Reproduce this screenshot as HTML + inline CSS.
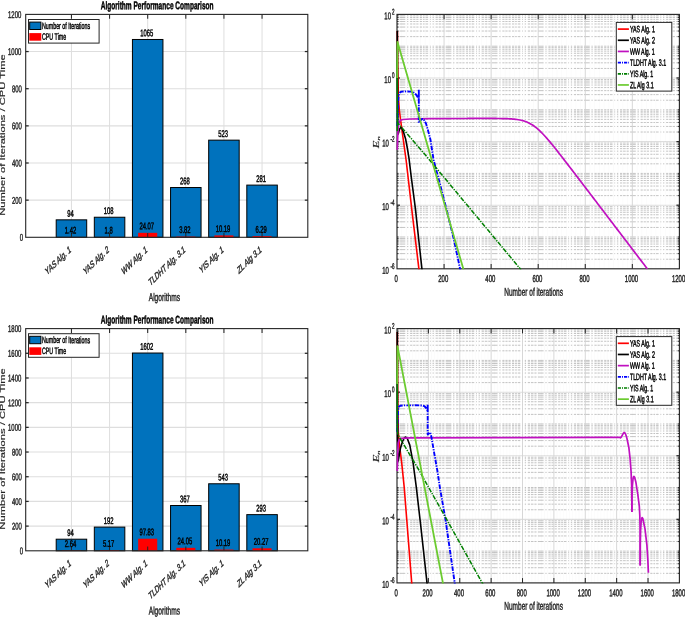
<!DOCTYPE html>
<html><head><meta charset="utf-8"><title>Algorithm Performance Comparison</title>
<style>html,body{margin:0;padding:0;background:#fff}svg{display:block}</style></head>
<body>
<svg width="685" height="617" viewBox="0 0 685 617">
<rect width="685" height="617" fill="#fff"/>
<line x1="71.45" y1="14.40" x2="71.45" y2="237.30" stroke="#dedede" stroke-width="1.0" />
<line x1="109.57" y1="14.40" x2="109.57" y2="237.30" stroke="#dedede" stroke-width="1.0" />
<line x1="147.69" y1="14.40" x2="147.69" y2="237.30" stroke="#dedede" stroke-width="1.0" />
<line x1="185.81" y1="14.40" x2="185.81" y2="237.30" stroke="#dedede" stroke-width="1.0" />
<line x1="223.93" y1="14.40" x2="223.93" y2="237.30" stroke="#dedede" stroke-width="1.0" />
<line x1="262.05" y1="14.40" x2="262.05" y2="237.30" stroke="#dedede" stroke-width="1.0" />
<line x1="25.70" y1="200.15" x2="307.80" y2="200.15" stroke="#dedede" stroke-width="1.1" />
<line x1="25.70" y1="163.00" x2="307.80" y2="163.00" stroke="#dedede" stroke-width="1.1" />
<line x1="25.70" y1="125.85" x2="307.80" y2="125.85" stroke="#dedede" stroke-width="1.1" />
<line x1="25.70" y1="88.70" x2="307.80" y2="88.70" stroke="#dedede" stroke-width="1.1" />
<line x1="25.70" y1="51.55" x2="307.80" y2="51.55" stroke="#dedede" stroke-width="1.1" />
<rect x="56.20" y="219.84" width="30.50" height="17.46" fill="#0072BD" stroke="#000" stroke-width="1.0" />
<rect x="94.32" y="217.24" width="30.50" height="20.06" fill="#0072BD" stroke="#000" stroke-width="1.0" />
<rect x="132.44" y="39.48" width="30.50" height="197.82" fill="#0072BD" stroke="#000" stroke-width="1.0" />
<rect x="170.56" y="187.52" width="30.50" height="49.78" fill="#0072BD" stroke="#000" stroke-width="1.0" />
<rect x="208.68" y="140.15" width="30.50" height="97.15" fill="#0072BD" stroke="#000" stroke-width="1.0" />
<rect x="246.81" y="185.10" width="30.50" height="52.20" fill="#0072BD" stroke="#000" stroke-width="1.0" />
<rect x="61.92" y="237.04" width="19.06" height="0.26" fill="#FF0000" stroke="none" stroke-width="1.0" />
<rect x="100.04" y="236.97" width="19.06" height="0.33" fill="#FF0000" stroke="none" stroke-width="1.0" />
<rect x="138.16" y="232.83" width="19.06" height="4.47" fill="#FF0000" stroke="none" stroke-width="1.0" />
<rect x="176.28" y="236.59" width="19.06" height="0.71" fill="#FF0000" stroke="none" stroke-width="1.0" />
<rect x="214.40" y="235.41" width="19.06" height="1.89" fill="#FF0000" stroke="none" stroke-width="1.0" />
<rect x="252.52" y="236.13" width="19.06" height="1.17" fill="#FF0000" stroke="none" stroke-width="1.0" />
<rect x="25.70" y="14.40" width="282.10" height="222.90" fill="none" stroke="#262626" stroke-width="1.1" />
<line x1="71.45" y1="237.30" x2="71.45" y2="233.00" stroke="#262626" stroke-width="1.05" />
<line x1="71.45" y1="14.40" x2="71.45" y2="18.70" stroke="#262626" stroke-width="1.05" />
<line x1="109.57" y1="237.30" x2="109.57" y2="233.00" stroke="#262626" stroke-width="1.05" />
<line x1="109.57" y1="14.40" x2="109.57" y2="18.70" stroke="#262626" stroke-width="1.05" />
<line x1="147.69" y1="237.30" x2="147.69" y2="233.00" stroke="#262626" stroke-width="1.05" />
<line x1="147.69" y1="14.40" x2="147.69" y2="18.70" stroke="#262626" stroke-width="1.05" />
<line x1="185.81" y1="237.30" x2="185.81" y2="233.00" stroke="#262626" stroke-width="1.05" />
<line x1="185.81" y1="14.40" x2="185.81" y2="18.70" stroke="#262626" stroke-width="1.05" />
<line x1="223.93" y1="237.30" x2="223.93" y2="233.00" stroke="#262626" stroke-width="1.05" />
<line x1="223.93" y1="14.40" x2="223.93" y2="18.70" stroke="#262626" stroke-width="1.05" />
<line x1="262.05" y1="237.30" x2="262.05" y2="233.00" stroke="#262626" stroke-width="1.05" />
<line x1="262.05" y1="14.40" x2="262.05" y2="18.70" stroke="#262626" stroke-width="1.05" />
<text transform="translate(23.10,240.80) scale(0.6090,1) rotate(0.03)" font-family='"Liberation Sans", sans-serif' font-size="9.8" text-anchor="end" font-weight="normal" font-style="normal" fill="#262626" stroke="#262626" stroke-width="0.45" >0</text>
<line x1="25.70" y1="200.15" x2="28.70" y2="200.15" stroke="#262626" stroke-width="1.25" />
<line x1="307.80" y1="200.15" x2="304.80" y2="200.15" stroke="#262626" stroke-width="1.25" />
<text transform="translate(21.90,203.65) scale(0.6090,1) rotate(0.03)" font-family='"Liberation Sans", sans-serif' font-size="9.8" text-anchor="end" font-weight="normal" font-style="normal" fill="#262626" stroke="#262626" stroke-width="0.45" >200</text>
<line x1="25.70" y1="163.00" x2="28.70" y2="163.00" stroke="#262626" stroke-width="1.25" />
<line x1="307.80" y1="163.00" x2="304.80" y2="163.00" stroke="#262626" stroke-width="1.25" />
<text transform="translate(21.90,166.50) scale(0.6090,1) rotate(0.03)" font-family='"Liberation Sans", sans-serif' font-size="9.8" text-anchor="end" font-weight="normal" font-style="normal" fill="#262626" stroke="#262626" stroke-width="0.45" >400</text>
<line x1="25.70" y1="125.85" x2="28.70" y2="125.85" stroke="#262626" stroke-width="1.25" />
<line x1="307.80" y1="125.85" x2="304.80" y2="125.85" stroke="#262626" stroke-width="1.25" />
<text transform="translate(21.90,129.35) scale(0.6090,1) rotate(0.03)" font-family='"Liberation Sans", sans-serif' font-size="9.8" text-anchor="end" font-weight="normal" font-style="normal" fill="#262626" stroke="#262626" stroke-width="0.45" >600</text>
<line x1="25.70" y1="88.70" x2="28.70" y2="88.70" stroke="#262626" stroke-width="1.25" />
<line x1="307.80" y1="88.70" x2="304.80" y2="88.70" stroke="#262626" stroke-width="1.25" />
<text transform="translate(21.90,92.20) scale(0.6090,1) rotate(0.03)" font-family='"Liberation Sans", sans-serif' font-size="9.8" text-anchor="end" font-weight="normal" font-style="normal" fill="#262626" stroke="#262626" stroke-width="0.45" >800</text>
<line x1="25.70" y1="51.55" x2="28.70" y2="51.55" stroke="#262626" stroke-width="1.25" />
<line x1="307.80" y1="51.55" x2="304.80" y2="51.55" stroke="#262626" stroke-width="1.25" />
<text transform="translate(21.30,55.05) scale(0.6090,1) rotate(0.03)" font-family='"Liberation Sans", sans-serif' font-size="9.8" text-anchor="end" font-weight="normal" font-style="normal" fill="#262626" stroke="#262626" stroke-width="0.45" >1000</text>
<text transform="translate(21.30,17.90) scale(0.6090,1) rotate(0.03)" font-family='"Liberation Sans", sans-serif' font-size="9.8" text-anchor="end" font-weight="normal" font-style="normal" fill="#262626" stroke="#262626" stroke-width="0.45" >1200</text>
<text transform="translate(70.55,216.64) scale(0.6100,1) rotate(0.03)" font-family='"Liberation Sans", sans-serif' font-size="9.6" text-anchor="middle" font-weight="normal" font-style="normal" fill="#000" stroke="#000" stroke-width="0.45" >94</text>
<text transform="translate(70.55,233.54) scale(0.6100,1) rotate(0.03)" font-family='"Liberation Sans", sans-serif' font-size="9.6" text-anchor="middle" font-weight="normal" font-style="normal" fill="#000" stroke="#000" stroke-width="0.45" >1.42</text>
<text transform="translate(108.67,214.04) scale(0.6100,1) rotate(0.03)" font-family='"Liberation Sans", sans-serif' font-size="9.6" text-anchor="middle" font-weight="normal" font-style="normal" fill="#000" stroke="#000" stroke-width="0.45" >108</text>
<text transform="translate(108.67,233.47) scale(0.6100,1) rotate(0.03)" font-family='"Liberation Sans", sans-serif' font-size="9.6" text-anchor="middle" font-weight="normal" font-style="normal" fill="#000" stroke="#000" stroke-width="0.45" >1.8</text>
<text transform="translate(146.79,36.28) scale(0.6100,1) rotate(0.03)" font-family='"Liberation Sans", sans-serif' font-size="9.6" text-anchor="middle" font-weight="normal" font-style="normal" fill="#000" stroke="#000" stroke-width="0.45" >1065</text>
<text transform="translate(146.79,229.33) scale(0.6100,1) rotate(0.03)" font-family='"Liberation Sans", sans-serif' font-size="9.6" text-anchor="middle" font-weight="normal" font-style="normal" fill="#000" stroke="#000" stroke-width="0.45" >24.07</text>
<text transform="translate(184.91,184.32) scale(0.6100,1) rotate(0.03)" font-family='"Liberation Sans", sans-serif' font-size="9.6" text-anchor="middle" font-weight="normal" font-style="normal" fill="#000" stroke="#000" stroke-width="0.45" >268</text>
<text transform="translate(184.91,233.09) scale(0.6100,1) rotate(0.03)" font-family='"Liberation Sans", sans-serif' font-size="9.6" text-anchor="middle" font-weight="normal" font-style="normal" fill="#000" stroke="#000" stroke-width="0.45" >3.82</text>
<text transform="translate(223.03,136.95) scale(0.6100,1) rotate(0.03)" font-family='"Liberation Sans", sans-serif' font-size="9.6" text-anchor="middle" font-weight="normal" font-style="normal" fill="#000" stroke="#000" stroke-width="0.45" >523</text>
<text transform="translate(223.03,231.91) scale(0.6100,1) rotate(0.03)" font-family='"Liberation Sans", sans-serif' font-size="9.6" text-anchor="middle" font-weight="normal" font-style="normal" fill="#000" stroke="#000" stroke-width="0.45" >10.19</text>
<text transform="translate(261.15,181.90) scale(0.6100,1) rotate(0.03)" font-family='"Liberation Sans", sans-serif' font-size="9.6" text-anchor="middle" font-weight="normal" font-style="normal" fill="#000" stroke="#000" stroke-width="0.45" >281</text>
<text transform="translate(261.15,232.63) scale(0.6100,1) rotate(0.03)" font-family='"Liberation Sans", sans-serif' font-size="9.6" text-anchor="middle" font-weight="normal" font-style="normal" fill="#000" stroke="#000" stroke-width="0.45" >6.29</text>
<text transform="translate(71.35,251.30) scale(0.5850,1) rotate(-30)" font-family='"Liberation Sans", sans-serif' font-size="10.3" text-anchor="end" font-weight="normal" font-style="normal" fill="#262626" stroke="#262626" stroke-width="0.45" >YAS Alg. 1</text>
<text transform="translate(109.47,251.30) scale(0.5850,1) rotate(-30)" font-family='"Liberation Sans", sans-serif' font-size="10.3" text-anchor="end" font-weight="normal" font-style="normal" fill="#262626" stroke="#262626" stroke-width="0.45" >YAS Alg. 2</text>
<text transform="translate(147.59,251.30) scale(0.5850,1) rotate(-30)" font-family='"Liberation Sans", sans-serif' font-size="10.3" text-anchor="end" font-weight="normal" font-style="normal" fill="#262626" stroke="#262626" stroke-width="0.45" >WW Alg. 1</text>
<text transform="translate(185.71,251.30) scale(0.5850,1) rotate(-30)" font-family='"Liberation Sans", sans-serif' font-size="10.3" text-anchor="end" font-weight="normal" font-style="normal" fill="#262626" stroke="#262626" stroke-width="0.45" >TLDHT Alg. 3.1</text>
<text transform="translate(223.83,251.30) scale(0.5850,1) rotate(-30)" font-family='"Liberation Sans", sans-serif' font-size="10.3" text-anchor="end" font-weight="normal" font-style="normal" fill="#262626" stroke="#262626" stroke-width="0.45" >YIS Alg. 1</text>
<text transform="translate(261.95,251.30) scale(0.5850,1) rotate(-30)" font-family='"Liberation Sans", sans-serif' font-size="10.3" text-anchor="end" font-weight="normal" font-style="normal" fill="#262626" stroke="#262626" stroke-width="0.45" >ZL Alg 3.1</text>
<rect x="28.50" y="19.50" width="70.60" height="23.60" fill="#fff" stroke="#262626" stroke-width="1.0" />
<rect x="29.70" y="22.10" width="11.20" height="7.40" fill="#0072BD" stroke="#000" stroke-width="1.0" />
<rect x="29.30" y="33.10" width="12.00" height="7.60" fill="#FF0000" stroke="none" stroke-width="1.0" />
<text transform="translate(42.00,28.90) scale(0.5780,1) rotate(0.03)" font-family='"Liberation Sans", sans-serif' font-size="9.2" text-anchor="start" font-weight="normal" font-style="normal" fill="#000" stroke="#000" stroke-width="0.45" >Number of Iterations</text>
<text transform="translate(42.00,39.70) scale(0.5780,1) rotate(0.03)" font-family='"Liberation Sans", sans-serif' font-size="9.2" text-anchor="start" font-weight="normal" font-style="normal" fill="#000" stroke="#000" stroke-width="0.45" >CPU Time</text>
<text transform="translate(157.15,9.30) scale(0.5860,1) rotate(0.03)" font-family='"Liberation Sans", sans-serif' font-size="11.2" text-anchor="middle" font-weight="bold" font-style="normal" fill="#000" stroke="#000" stroke-width="0.45" >Algorithm Performance Comparison</text>
<text transform="translate(164.40,300.90) scale(0.5940,1) rotate(0.03)" font-family='"Liberation Sans", sans-serif' font-size="11.2" text-anchor="middle" font-weight="normal" font-style="normal" fill="#262626" stroke="#262626" stroke-width="0.45" >Algorithms</text>
<text transform="translate(4.90,135.05) scale(0.5850,1) rotate(-90)" font-family='"Liberation Sans", sans-serif' font-size="11.2" text-anchor="middle" font-weight="normal" font-style="normal" fill="#262626" stroke="#262626" stroke-width="0.25" >Number of Iterations / CPU Time</text>
<line x1="71.45" y1="328.60" x2="71.45" y2="550.80" stroke="#dedede" stroke-width="1.0" />
<line x1="109.57" y1="328.60" x2="109.57" y2="550.80" stroke="#dedede" stroke-width="1.0" />
<line x1="147.69" y1="328.60" x2="147.69" y2="550.80" stroke="#dedede" stroke-width="1.0" />
<line x1="185.81" y1="328.60" x2="185.81" y2="550.80" stroke="#dedede" stroke-width="1.0" />
<line x1="223.93" y1="328.60" x2="223.93" y2="550.80" stroke="#dedede" stroke-width="1.0" />
<line x1="262.05" y1="328.60" x2="262.05" y2="550.80" stroke="#dedede" stroke-width="1.0" />
<line x1="25.70" y1="526.11" x2="307.80" y2="526.11" stroke="#dedede" stroke-width="1.1" />
<line x1="25.70" y1="501.42" x2="307.80" y2="501.42" stroke="#dedede" stroke-width="1.1" />
<line x1="25.70" y1="476.73" x2="307.80" y2="476.73" stroke="#dedede" stroke-width="1.1" />
<line x1="25.70" y1="452.04" x2="307.80" y2="452.04" stroke="#dedede" stroke-width="1.1" />
<line x1="25.70" y1="427.36" x2="307.80" y2="427.36" stroke="#dedede" stroke-width="1.1" />
<line x1="25.70" y1="402.67" x2="307.80" y2="402.67" stroke="#dedede" stroke-width="1.1" />
<line x1="25.70" y1="377.98" x2="307.80" y2="377.98" stroke="#dedede" stroke-width="1.1" />
<line x1="25.70" y1="353.29" x2="307.80" y2="353.29" stroke="#dedede" stroke-width="1.1" />
<rect x="56.20" y="539.20" width="30.50" height="11.60" fill="#0072BD" stroke="#000" stroke-width="1.0" />
<rect x="94.32" y="527.10" width="30.50" height="23.70" fill="#0072BD" stroke="#000" stroke-width="1.0" />
<rect x="132.44" y="353.04" width="30.50" height="197.76" fill="#0072BD" stroke="#000" stroke-width="1.0" />
<rect x="170.56" y="505.50" width="30.50" height="45.30" fill="#0072BD" stroke="#000" stroke-width="1.0" />
<rect x="208.68" y="483.77" width="30.50" height="67.03" fill="#0072BD" stroke="#000" stroke-width="1.0" />
<rect x="246.81" y="514.63" width="30.50" height="36.17" fill="#0072BD" stroke="#000" stroke-width="1.0" />
<rect x="61.92" y="550.47" width="19.06" height="0.33" fill="#FF0000" stroke="none" stroke-width="1.0" />
<rect x="100.04" y="550.16" width="19.06" height="0.64" fill="#FF0000" stroke="none" stroke-width="1.0" />
<rect x="138.16" y="538.72" width="19.06" height="12.08" fill="#FF0000" stroke="none" stroke-width="1.0" />
<rect x="176.28" y="547.83" width="19.06" height="2.97" fill="#FF0000" stroke="none" stroke-width="1.0" />
<rect x="214.40" y="549.54" width="19.06" height="1.26" fill="#FF0000" stroke="none" stroke-width="1.0" />
<rect x="252.52" y="548.30" width="19.06" height="2.50" fill="#FF0000" stroke="none" stroke-width="1.0" />
<rect x="25.70" y="328.60" width="282.10" height="222.20" fill="none" stroke="#262626" stroke-width="1.1" />
<line x1="71.45" y1="550.80" x2="71.45" y2="546.50" stroke="#262626" stroke-width="1.05" />
<line x1="71.45" y1="328.60" x2="71.45" y2="332.90" stroke="#262626" stroke-width="1.05" />
<line x1="109.57" y1="550.80" x2="109.57" y2="546.50" stroke="#262626" stroke-width="1.05" />
<line x1="109.57" y1="328.60" x2="109.57" y2="332.90" stroke="#262626" stroke-width="1.05" />
<line x1="147.69" y1="550.80" x2="147.69" y2="546.50" stroke="#262626" stroke-width="1.05" />
<line x1="147.69" y1="328.60" x2="147.69" y2="332.90" stroke="#262626" stroke-width="1.05" />
<line x1="185.81" y1="550.80" x2="185.81" y2="546.50" stroke="#262626" stroke-width="1.05" />
<line x1="185.81" y1="328.60" x2="185.81" y2="332.90" stroke="#262626" stroke-width="1.05" />
<line x1="223.93" y1="550.80" x2="223.93" y2="546.50" stroke="#262626" stroke-width="1.05" />
<line x1="223.93" y1="328.60" x2="223.93" y2="332.90" stroke="#262626" stroke-width="1.05" />
<line x1="262.05" y1="550.80" x2="262.05" y2="546.50" stroke="#262626" stroke-width="1.05" />
<line x1="262.05" y1="328.60" x2="262.05" y2="332.90" stroke="#262626" stroke-width="1.05" />
<text transform="translate(23.10,554.30) scale(0.6090,1) rotate(0.03)" font-family='"Liberation Sans", sans-serif' font-size="9.8" text-anchor="end" font-weight="normal" font-style="normal" fill="#262626" stroke="#262626" stroke-width="0.45" >0</text>
<line x1="25.70" y1="526.11" x2="28.70" y2="526.11" stroke="#262626" stroke-width="1.25" />
<line x1="307.80" y1="526.11" x2="304.80" y2="526.11" stroke="#262626" stroke-width="1.25" />
<text transform="translate(21.90,529.61) scale(0.6090,1) rotate(0.03)" font-family='"Liberation Sans", sans-serif' font-size="9.8" text-anchor="end" font-weight="normal" font-style="normal" fill="#262626" stroke="#262626" stroke-width="0.45" >200</text>
<line x1="25.70" y1="501.42" x2="28.70" y2="501.42" stroke="#262626" stroke-width="1.25" />
<line x1="307.80" y1="501.42" x2="304.80" y2="501.42" stroke="#262626" stroke-width="1.25" />
<text transform="translate(21.90,504.92) scale(0.6090,1) rotate(0.03)" font-family='"Liberation Sans", sans-serif' font-size="9.8" text-anchor="end" font-weight="normal" font-style="normal" fill="#262626" stroke="#262626" stroke-width="0.45" >400</text>
<line x1="25.70" y1="476.73" x2="28.70" y2="476.73" stroke="#262626" stroke-width="1.25" />
<line x1="307.80" y1="476.73" x2="304.80" y2="476.73" stroke="#262626" stroke-width="1.25" />
<text transform="translate(21.90,480.23) scale(0.6090,1) rotate(0.03)" font-family='"Liberation Sans", sans-serif' font-size="9.8" text-anchor="end" font-weight="normal" font-style="normal" fill="#262626" stroke="#262626" stroke-width="0.45" >600</text>
<line x1="25.70" y1="452.04" x2="28.70" y2="452.04" stroke="#262626" stroke-width="1.25" />
<line x1="307.80" y1="452.04" x2="304.80" y2="452.04" stroke="#262626" stroke-width="1.25" />
<text transform="translate(21.90,455.54) scale(0.6090,1) rotate(0.03)" font-family='"Liberation Sans", sans-serif' font-size="9.8" text-anchor="end" font-weight="normal" font-style="normal" fill="#262626" stroke="#262626" stroke-width="0.45" >800</text>
<line x1="25.70" y1="427.36" x2="28.70" y2="427.36" stroke="#262626" stroke-width="1.25" />
<line x1="307.80" y1="427.36" x2="304.80" y2="427.36" stroke="#262626" stroke-width="1.25" />
<text transform="translate(21.30,430.86) scale(0.6090,1) rotate(0.03)" font-family='"Liberation Sans", sans-serif' font-size="9.8" text-anchor="end" font-weight="normal" font-style="normal" fill="#262626" stroke="#262626" stroke-width="0.45" >1000</text>
<line x1="25.70" y1="402.67" x2="28.70" y2="402.67" stroke="#262626" stroke-width="1.25" />
<line x1="307.80" y1="402.67" x2="304.80" y2="402.67" stroke="#262626" stroke-width="1.25" />
<text transform="translate(21.30,406.17) scale(0.6090,1) rotate(0.03)" font-family='"Liberation Sans", sans-serif' font-size="9.8" text-anchor="end" font-weight="normal" font-style="normal" fill="#262626" stroke="#262626" stroke-width="0.45" >1200</text>
<line x1="25.70" y1="377.98" x2="28.70" y2="377.98" stroke="#262626" stroke-width="1.25" />
<line x1="307.80" y1="377.98" x2="304.80" y2="377.98" stroke="#262626" stroke-width="1.25" />
<text transform="translate(21.30,381.48) scale(0.6090,1) rotate(0.03)" font-family='"Liberation Sans", sans-serif' font-size="9.8" text-anchor="end" font-weight="normal" font-style="normal" fill="#262626" stroke="#262626" stroke-width="0.45" >1400</text>
<line x1="25.70" y1="353.29" x2="28.70" y2="353.29" stroke="#262626" stroke-width="1.25" />
<line x1="307.80" y1="353.29" x2="304.80" y2="353.29" stroke="#262626" stroke-width="1.25" />
<text transform="translate(21.30,356.79) scale(0.6090,1) rotate(0.03)" font-family='"Liberation Sans", sans-serif' font-size="9.8" text-anchor="end" font-weight="normal" font-style="normal" fill="#262626" stroke="#262626" stroke-width="0.45" >1600</text>
<text transform="translate(21.30,332.10) scale(0.6090,1) rotate(0.03)" font-family='"Liberation Sans", sans-serif' font-size="9.8" text-anchor="end" font-weight="normal" font-style="normal" fill="#262626" stroke="#262626" stroke-width="0.45" >1800</text>
<text transform="translate(70.55,536.00) scale(0.6100,1) rotate(0.03)" font-family='"Liberation Sans", sans-serif' font-size="9.6" text-anchor="middle" font-weight="normal" font-style="normal" fill="#000" stroke="#000" stroke-width="0.45" >94</text>
<text transform="translate(70.55,546.97) scale(0.6100,1) rotate(0.03)" font-family='"Liberation Sans", sans-serif' font-size="9.6" text-anchor="middle" font-weight="normal" font-style="normal" fill="#000" stroke="#000" stroke-width="0.45" >2.64</text>
<text transform="translate(108.67,523.90) scale(0.6100,1) rotate(0.03)" font-family='"Liberation Sans", sans-serif' font-size="9.6" text-anchor="middle" font-weight="normal" font-style="normal" fill="#000" stroke="#000" stroke-width="0.45" >192</text>
<text transform="translate(108.67,546.66) scale(0.6100,1) rotate(0.03)" font-family='"Liberation Sans", sans-serif' font-size="9.6" text-anchor="middle" font-weight="normal" font-style="normal" fill="#000" stroke="#000" stroke-width="0.45" >5.17</text>
<text transform="translate(146.79,349.84) scale(0.6100,1) rotate(0.03)" font-family='"Liberation Sans", sans-serif' font-size="9.6" text-anchor="middle" font-weight="normal" font-style="normal" fill="#000" stroke="#000" stroke-width="0.45" >1602</text>
<text transform="translate(146.79,535.22) scale(0.6100,1) rotate(0.03)" font-family='"Liberation Sans", sans-serif' font-size="9.6" text-anchor="middle" font-weight="normal" font-style="normal" fill="#000" stroke="#000" stroke-width="0.45" >97.83</text>
<text transform="translate(184.91,502.30) scale(0.6100,1) rotate(0.03)" font-family='"Liberation Sans", sans-serif' font-size="9.6" text-anchor="middle" font-weight="normal" font-style="normal" fill="#000" stroke="#000" stroke-width="0.45" >367</text>
<text transform="translate(184.91,544.33) scale(0.6100,1) rotate(0.03)" font-family='"Liberation Sans", sans-serif' font-size="9.6" text-anchor="middle" font-weight="normal" font-style="normal" fill="#000" stroke="#000" stroke-width="0.45" >24.05</text>
<text transform="translate(223.03,480.57) scale(0.6100,1) rotate(0.03)" font-family='"Liberation Sans", sans-serif' font-size="9.6" text-anchor="middle" font-weight="normal" font-style="normal" fill="#000" stroke="#000" stroke-width="0.45" >543</text>
<text transform="translate(223.03,546.04) scale(0.6100,1) rotate(0.03)" font-family='"Liberation Sans", sans-serif' font-size="9.6" text-anchor="middle" font-weight="normal" font-style="normal" fill="#000" stroke="#000" stroke-width="0.45" >10.19</text>
<text transform="translate(261.15,511.43) scale(0.6100,1) rotate(0.03)" font-family='"Liberation Sans", sans-serif' font-size="9.6" text-anchor="middle" font-weight="normal" font-style="normal" fill="#000" stroke="#000" stroke-width="0.45" >293</text>
<text transform="translate(261.15,544.80) scale(0.6100,1) rotate(0.03)" font-family='"Liberation Sans", sans-serif' font-size="9.6" text-anchor="middle" font-weight="normal" font-style="normal" fill="#000" stroke="#000" stroke-width="0.45" >20.27</text>
<text transform="translate(71.35,564.80) scale(0.5850,1) rotate(-30)" font-family='"Liberation Sans", sans-serif' font-size="10.3" text-anchor="end" font-weight="normal" font-style="normal" fill="#262626" stroke="#262626" stroke-width="0.45" >YAS Alg. 1</text>
<text transform="translate(109.47,564.80) scale(0.5850,1) rotate(-30)" font-family='"Liberation Sans", sans-serif' font-size="10.3" text-anchor="end" font-weight="normal" font-style="normal" fill="#262626" stroke="#262626" stroke-width="0.45" >YAS Alg. 2</text>
<text transform="translate(147.59,564.80) scale(0.5850,1) rotate(-30)" font-family='"Liberation Sans", sans-serif' font-size="10.3" text-anchor="end" font-weight="normal" font-style="normal" fill="#262626" stroke="#262626" stroke-width="0.45" >WW Alg. 1</text>
<text transform="translate(185.71,564.80) scale(0.5850,1) rotate(-30)" font-family='"Liberation Sans", sans-serif' font-size="10.3" text-anchor="end" font-weight="normal" font-style="normal" fill="#262626" stroke="#262626" stroke-width="0.45" >TLDHT Alg. 3.1</text>
<text transform="translate(223.83,564.80) scale(0.5850,1) rotate(-30)" font-family='"Liberation Sans", sans-serif' font-size="10.3" text-anchor="end" font-weight="normal" font-style="normal" fill="#262626" stroke="#262626" stroke-width="0.45" >YIS Alg. 1</text>
<text transform="translate(261.95,564.80) scale(0.5850,1) rotate(-30)" font-family='"Liberation Sans", sans-serif' font-size="10.3" text-anchor="end" font-weight="normal" font-style="normal" fill="#262626" stroke="#262626" stroke-width="0.45" >ZL Alg 3.1</text>
<rect x="28.50" y="333.70" width="70.60" height="23.60" fill="#fff" stroke="#262626" stroke-width="1.0" />
<rect x="29.70" y="336.30" width="11.20" height="7.40" fill="#0072BD" stroke="#000" stroke-width="1.0" />
<rect x="29.30" y="347.30" width="12.00" height="7.60" fill="#FF0000" stroke="none" stroke-width="1.0" />
<text transform="translate(42.00,343.10) scale(0.5780,1) rotate(0.03)" font-family='"Liberation Sans", sans-serif' font-size="9.2" text-anchor="start" font-weight="normal" font-style="normal" fill="#000" stroke="#000" stroke-width="0.45" >Number of Iterations</text>
<text transform="translate(42.00,353.90) scale(0.5780,1) rotate(0.03)" font-family='"Liberation Sans", sans-serif' font-size="9.2" text-anchor="start" font-weight="normal" font-style="normal" fill="#000" stroke="#000" stroke-width="0.45" >CPU Time</text>
<text transform="translate(157.15,323.50) scale(0.5860,1) rotate(0.03)" font-family='"Liberation Sans", sans-serif' font-size="11.2" text-anchor="middle" font-weight="bold" font-style="normal" fill="#000" stroke="#000" stroke-width="0.45" >Algorithm Performance Comparison</text>
<text transform="translate(164.40,614.40) scale(0.5940,1) rotate(0.03)" font-family='"Liberation Sans", sans-serif' font-size="11.2" text-anchor="middle" font-weight="normal" font-style="normal" fill="#262626" stroke="#262626" stroke-width="0.45" >Algorithms</text>
<text transform="translate(4.90,448.90) scale(0.5850,1) rotate(-90)" font-family='"Liberation Sans", sans-serif' font-size="11.2" text-anchor="middle" font-weight="normal" font-style="normal" fill="#262626" stroke="#262626" stroke-width="0.25" >Number of Iterations / CPU Time</text>
<clipPath id="c2"><rect x="396.00" y="14.40" width="284.40" height="254.90"/></clipPath>
<line x1="397.00" y1="36.63" x2="679.40" y2="36.63" stroke="#000" stroke-width="0.9" stroke-dasharray="5.7 1.75 1.3 1.75 2.2 0.9 2.2 0.9 2.2 1.3 2.2 0.9 1.75 0.9 2.6 1.75 0.9 1.75 1.3 1.75 2.2 0.9 2.6 0.9 2.2 1.3" stroke-dashoffset="43.5" opacity="0.26"/>
<line x1="397.00" y1="31.03" x2="679.40" y2="31.03" stroke="#000" stroke-width="0.9" stroke-dasharray="5.7 1.75 1.3 1.75 2.2 0.9 2.2 0.9 2.2 1.3 2.2 0.9 1.75 0.9 2.6 1.75 0.9 1.75 1.3 1.75 2.2 0.9 2.6 0.9 2.2 1.3" stroke-dashoffset="43.5" opacity="0.26"/>
<line x1="397.00" y1="27.05" x2="679.40" y2="27.05" stroke="#000" stroke-width="0.9" stroke-dasharray="5.7 1.75 1.3 1.75 2.2 0.9 2.2 0.9 2.2 1.3 2.2 0.9 1.75 0.9 2.6 1.75 0.9 1.75 1.3 1.75 2.2 0.9 2.6 0.9 2.2 1.3" stroke-dashoffset="43.5" opacity="0.26"/>
<line x1="397.00" y1="23.97" x2="679.40" y2="23.97" stroke="#000" stroke-width="0.9" stroke-dasharray="5.7 1.75 1.3 1.75 2.2 0.9 2.2 0.9 2.2 1.3 2.2 0.9 1.75 0.9 2.6 1.75 0.9 1.75 1.3 1.75 2.2 0.9 2.6 0.9 2.2 1.3" stroke-dashoffset="43.5" opacity="0.26"/>
<line x1="397.00" y1="21.45" x2="679.40" y2="21.45" stroke="#000" stroke-width="0.9" stroke-dasharray="5.7 1.75 1.3 1.75 2.2 0.9 2.2 0.9 2.2 1.3 2.2 0.9 1.75 0.9 2.6 1.75 0.9 1.75 1.3 1.75 2.2 0.9 2.6 0.9 2.2 1.3" stroke-dashoffset="43.5" opacity="0.26"/>
<line x1="397.00" y1="19.33" x2="679.40" y2="19.33" stroke="#000" stroke-width="0.9" stroke-dasharray="5.7 1.75 1.3 1.75 2.2 0.9 2.2 0.9 2.2 1.3 2.2 0.9 1.75 0.9 2.6 1.75 0.9 1.75 1.3 1.75 2.2 0.9 2.6 0.9 2.2 1.3" stroke-dashoffset="43.5" opacity="0.26"/>
<line x1="397.00" y1="17.48" x2="679.40" y2="17.48" stroke="#000" stroke-width="0.9" stroke-dasharray="5.7 1.75 1.3 1.75 2.2 0.9 2.2 0.9 2.2 1.3 2.2 0.9 1.75 0.9 2.6 1.75 0.9 1.75 1.3 1.75 2.2 0.9 2.6 0.9 2.2 1.3" stroke-dashoffset="43.5" opacity="0.26"/>
<line x1="397.00" y1="15.86" x2="679.40" y2="15.86" stroke="#000" stroke-width="0.9" stroke-dasharray="5.7 1.75 1.3 1.75 2.2 0.9 2.2 0.9 2.2 1.3 2.2 0.9 1.75 0.9 2.6 1.75 0.9 1.75 1.3 1.75 2.2 0.9 2.6 0.9 2.2 1.3" stroke-dashoffset="43.5" opacity="0.26"/>
<line x1="397.00" y1="68.43" x2="679.40" y2="68.43" stroke="#000" stroke-width="0.9" stroke-dasharray="5.7 1.75 1.3 1.75 2.2 0.9 2.2 0.9 2.2 1.3 2.2 0.9 1.75 0.9 2.6 1.75 0.9 1.75 1.3 1.75 2.2 0.9 2.6 0.9 2.2 1.3" stroke-dashoffset="43.5" opacity="0.26"/>
<line x1="397.00" y1="62.83" x2="679.40" y2="62.83" stroke="#000" stroke-width="0.9" stroke-dasharray="5.7 1.75 1.3 1.75 2.2 0.9 2.2 0.9 2.2 1.3 2.2 0.9 1.75 0.9 2.6 1.75 0.9 1.75 1.3 1.75 2.2 0.9 2.6 0.9 2.2 1.3" stroke-dashoffset="43.5" opacity="0.26"/>
<line x1="397.00" y1="58.85" x2="679.40" y2="58.85" stroke="#000" stroke-width="0.9" stroke-dasharray="5.7 1.75 1.3 1.75 2.2 0.9 2.2 0.9 2.2 1.3 2.2 0.9 1.75 0.9 2.6 1.75 0.9 1.75 1.3 1.75 2.2 0.9 2.6 0.9 2.2 1.3" stroke-dashoffset="43.5" opacity="0.26"/>
<line x1="397.00" y1="55.77" x2="679.40" y2="55.77" stroke="#000" stroke-width="0.9" stroke-dasharray="5.7 1.75 1.3 1.75 2.2 0.9 2.2 0.9 2.2 1.3 2.2 0.9 1.75 0.9 2.6 1.75 0.9 1.75 1.3 1.75 2.2 0.9 2.6 0.9 2.2 1.3" stroke-dashoffset="43.5" opacity="0.26"/>
<line x1="397.00" y1="53.25" x2="679.40" y2="53.25" stroke="#000" stroke-width="0.9" stroke-dasharray="5.7 1.75 1.3 1.75 2.2 0.9 2.2 0.9 2.2 1.3 2.2 0.9 1.75 0.9 2.6 1.75 0.9 1.75 1.3 1.75 2.2 0.9 2.6 0.9 2.2 1.3" stroke-dashoffset="43.5" opacity="0.26"/>
<line x1="397.00" y1="51.13" x2="679.40" y2="51.13" stroke="#000" stroke-width="0.9" stroke-dasharray="5.7 1.75 1.3 1.75 2.2 0.9 2.2 0.9 2.2 1.3 2.2 0.9 1.75 0.9 2.6 1.75 0.9 1.75 1.3 1.75 2.2 0.9 2.6 0.9 2.2 1.3" stroke-dashoffset="43.5" opacity="0.26"/>
<line x1="397.00" y1="49.28" x2="679.40" y2="49.28" stroke="#000" stroke-width="0.9" stroke-dasharray="5.7 1.75 1.3 1.75 2.2 0.9 2.2 0.9 2.2 1.3 2.2 0.9 1.75 0.9 2.6 1.75 0.9 1.75 1.3 1.75 2.2 0.9 2.6 0.9 2.2 1.3" stroke-dashoffset="43.5" opacity="0.26"/>
<line x1="397.00" y1="47.66" x2="679.40" y2="47.66" stroke="#000" stroke-width="0.9" stroke-dasharray="5.7 1.75 1.3 1.75 2.2 0.9 2.2 0.9 2.2 1.3 2.2 0.9 1.75 0.9 2.6 1.75 0.9 1.75 1.3 1.75 2.2 0.9 2.6 0.9 2.2 1.3" stroke-dashoffset="43.5" opacity="0.26"/>
<line x1="397.00" y1="100.23" x2="679.40" y2="100.23" stroke="#000" stroke-width="0.9" stroke-dasharray="5.7 1.75 1.3 1.75 2.2 0.9 2.2 0.9 2.2 1.3 2.2 0.9 1.75 0.9 2.6 1.75 0.9 1.75 1.3 1.75 2.2 0.9 2.6 0.9 2.2 1.3" stroke-dashoffset="43.5" opacity="0.26"/>
<line x1="397.00" y1="94.63" x2="679.40" y2="94.63" stroke="#000" stroke-width="0.9" stroke-dasharray="5.7 1.75 1.3 1.75 2.2 0.9 2.2 0.9 2.2 1.3 2.2 0.9 1.75 0.9 2.6 1.75 0.9 1.75 1.3 1.75 2.2 0.9 2.6 0.9 2.2 1.3" stroke-dashoffset="43.5" opacity="0.26"/>
<line x1="397.00" y1="90.65" x2="679.40" y2="90.65" stroke="#000" stroke-width="0.9" stroke-dasharray="5.7 1.75 1.3 1.75 2.2 0.9 2.2 0.9 2.2 1.3 2.2 0.9 1.75 0.9 2.6 1.75 0.9 1.75 1.3 1.75 2.2 0.9 2.6 0.9 2.2 1.3" stroke-dashoffset="43.5" opacity="0.26"/>
<line x1="397.00" y1="87.57" x2="679.40" y2="87.57" stroke="#000" stroke-width="0.9" stroke-dasharray="5.7 1.75 1.3 1.75 2.2 0.9 2.2 0.9 2.2 1.3 2.2 0.9 1.75 0.9 2.6 1.75 0.9 1.75 1.3 1.75 2.2 0.9 2.6 0.9 2.2 1.3" stroke-dashoffset="43.5" opacity="0.26"/>
<line x1="397.00" y1="85.05" x2="679.40" y2="85.05" stroke="#000" stroke-width="0.9" stroke-dasharray="5.7 1.75 1.3 1.75 2.2 0.9 2.2 0.9 2.2 1.3 2.2 0.9 1.75 0.9 2.6 1.75 0.9 1.75 1.3 1.75 2.2 0.9 2.6 0.9 2.2 1.3" stroke-dashoffset="43.5" opacity="0.26"/>
<line x1="397.00" y1="82.93" x2="679.40" y2="82.93" stroke="#000" stroke-width="0.9" stroke-dasharray="5.7 1.75 1.3 1.75 2.2 0.9 2.2 0.9 2.2 1.3 2.2 0.9 1.75 0.9 2.6 1.75 0.9 1.75 1.3 1.75 2.2 0.9 2.6 0.9 2.2 1.3" stroke-dashoffset="43.5" opacity="0.26"/>
<line x1="397.00" y1="81.08" x2="679.40" y2="81.08" stroke="#000" stroke-width="0.9" stroke-dasharray="5.7 1.75 1.3 1.75 2.2 0.9 2.2 0.9 2.2 1.3 2.2 0.9 1.75 0.9 2.6 1.75 0.9 1.75 1.3 1.75 2.2 0.9 2.6 0.9 2.2 1.3" stroke-dashoffset="43.5" opacity="0.26"/>
<line x1="397.00" y1="79.46" x2="679.40" y2="79.46" stroke="#000" stroke-width="0.9" stroke-dasharray="5.7 1.75 1.3 1.75 2.2 0.9 2.2 0.9 2.2 1.3 2.2 0.9 1.75 0.9 2.6 1.75 0.9 1.75 1.3 1.75 2.2 0.9 2.6 0.9 2.2 1.3" stroke-dashoffset="43.5" opacity="0.26"/>
<line x1="397.00" y1="132.03" x2="679.40" y2="132.03" stroke="#000" stroke-width="0.9" stroke-dasharray="5.7 1.75 1.3 1.75 2.2 0.9 2.2 0.9 2.2 1.3 2.2 0.9 1.75 0.9 2.6 1.75 0.9 1.75 1.3 1.75 2.2 0.9 2.6 0.9 2.2 1.3" stroke-dashoffset="43.5" opacity="0.26"/>
<line x1="397.00" y1="126.43" x2="679.40" y2="126.43" stroke="#000" stroke-width="0.9" stroke-dasharray="5.7 1.75 1.3 1.75 2.2 0.9 2.2 0.9 2.2 1.3 2.2 0.9 1.75 0.9 2.6 1.75 0.9 1.75 1.3 1.75 2.2 0.9 2.6 0.9 2.2 1.3" stroke-dashoffset="43.5" opacity="0.26"/>
<line x1="397.00" y1="122.45" x2="679.40" y2="122.45" stroke="#000" stroke-width="0.9" stroke-dasharray="5.7 1.75 1.3 1.75 2.2 0.9 2.2 0.9 2.2 1.3 2.2 0.9 1.75 0.9 2.6 1.75 0.9 1.75 1.3 1.75 2.2 0.9 2.6 0.9 2.2 1.3" stroke-dashoffset="43.5" opacity="0.26"/>
<line x1="397.00" y1="119.37" x2="679.40" y2="119.37" stroke="#000" stroke-width="0.9" stroke-dasharray="5.7 1.75 1.3 1.75 2.2 0.9 2.2 0.9 2.2 1.3 2.2 0.9 1.75 0.9 2.6 1.75 0.9 1.75 1.3 1.75 2.2 0.9 2.6 0.9 2.2 1.3" stroke-dashoffset="43.5" opacity="0.26"/>
<line x1="397.00" y1="116.85" x2="679.40" y2="116.85" stroke="#000" stroke-width="0.9" stroke-dasharray="5.7 1.75 1.3 1.75 2.2 0.9 2.2 0.9 2.2 1.3 2.2 0.9 1.75 0.9 2.6 1.75 0.9 1.75 1.3 1.75 2.2 0.9 2.6 0.9 2.2 1.3" stroke-dashoffset="43.5" opacity="0.26"/>
<line x1="397.00" y1="114.73" x2="679.40" y2="114.73" stroke="#000" stroke-width="0.9" stroke-dasharray="5.7 1.75 1.3 1.75 2.2 0.9 2.2 0.9 2.2 1.3 2.2 0.9 1.75 0.9 2.6 1.75 0.9 1.75 1.3 1.75 2.2 0.9 2.6 0.9 2.2 1.3" stroke-dashoffset="43.5" opacity="0.26"/>
<line x1="397.00" y1="112.88" x2="679.40" y2="112.88" stroke="#000" stroke-width="0.9" stroke-dasharray="5.7 1.75 1.3 1.75 2.2 0.9 2.2 0.9 2.2 1.3 2.2 0.9 1.75 0.9 2.6 1.75 0.9 1.75 1.3 1.75 2.2 0.9 2.6 0.9 2.2 1.3" stroke-dashoffset="43.5" opacity="0.26"/>
<line x1="397.00" y1="111.26" x2="679.40" y2="111.26" stroke="#000" stroke-width="0.9" stroke-dasharray="5.7 1.75 1.3 1.75 2.2 0.9 2.2 0.9 2.2 1.3 2.2 0.9 1.75 0.9 2.6 1.75 0.9 1.75 1.3 1.75 2.2 0.9 2.6 0.9 2.2 1.3" stroke-dashoffset="43.5" opacity="0.26"/>
<line x1="397.00" y1="163.83" x2="679.40" y2="163.83" stroke="#000" stroke-width="0.9" stroke-dasharray="5.7 1.75 1.3 1.75 2.2 0.9 2.2 0.9 2.2 1.3 2.2 0.9 1.75 0.9 2.6 1.75 0.9 1.75 1.3 1.75 2.2 0.9 2.6 0.9 2.2 1.3" stroke-dashoffset="43.5" opacity="0.26"/>
<line x1="397.00" y1="158.23" x2="679.40" y2="158.23" stroke="#000" stroke-width="0.9" stroke-dasharray="5.7 1.75 1.3 1.75 2.2 0.9 2.2 0.9 2.2 1.3 2.2 0.9 1.75 0.9 2.6 1.75 0.9 1.75 1.3 1.75 2.2 0.9 2.6 0.9 2.2 1.3" stroke-dashoffset="43.5" opacity="0.26"/>
<line x1="397.00" y1="154.25" x2="679.40" y2="154.25" stroke="#000" stroke-width="0.9" stroke-dasharray="5.7 1.75 1.3 1.75 2.2 0.9 2.2 0.9 2.2 1.3 2.2 0.9 1.75 0.9 2.6 1.75 0.9 1.75 1.3 1.75 2.2 0.9 2.6 0.9 2.2 1.3" stroke-dashoffset="43.5" opacity="0.26"/>
<line x1="397.00" y1="151.17" x2="679.40" y2="151.17" stroke="#000" stroke-width="0.9" stroke-dasharray="5.7 1.75 1.3 1.75 2.2 0.9 2.2 0.9 2.2 1.3 2.2 0.9 1.75 0.9 2.6 1.75 0.9 1.75 1.3 1.75 2.2 0.9 2.6 0.9 2.2 1.3" stroke-dashoffset="43.5" opacity="0.26"/>
<line x1="397.00" y1="148.65" x2="679.40" y2="148.65" stroke="#000" stroke-width="0.9" stroke-dasharray="5.7 1.75 1.3 1.75 2.2 0.9 2.2 0.9 2.2 1.3 2.2 0.9 1.75 0.9 2.6 1.75 0.9 1.75 1.3 1.75 2.2 0.9 2.6 0.9 2.2 1.3" stroke-dashoffset="43.5" opacity="0.26"/>
<line x1="397.00" y1="146.53" x2="679.40" y2="146.53" stroke="#000" stroke-width="0.9" stroke-dasharray="5.7 1.75 1.3 1.75 2.2 0.9 2.2 0.9 2.2 1.3 2.2 0.9 1.75 0.9 2.6 1.75 0.9 1.75 1.3 1.75 2.2 0.9 2.6 0.9 2.2 1.3" stroke-dashoffset="43.5" opacity="0.26"/>
<line x1="397.00" y1="144.68" x2="679.40" y2="144.68" stroke="#000" stroke-width="0.9" stroke-dasharray="5.7 1.75 1.3 1.75 2.2 0.9 2.2 0.9 2.2 1.3 2.2 0.9 1.75 0.9 2.6 1.75 0.9 1.75 1.3 1.75 2.2 0.9 2.6 0.9 2.2 1.3" stroke-dashoffset="43.5" opacity="0.26"/>
<line x1="397.00" y1="143.06" x2="679.40" y2="143.06" stroke="#000" stroke-width="0.9" stroke-dasharray="5.7 1.75 1.3 1.75 2.2 0.9 2.2 0.9 2.2 1.3 2.2 0.9 1.75 0.9 2.6 1.75 0.9 1.75 1.3 1.75 2.2 0.9 2.6 0.9 2.2 1.3" stroke-dashoffset="43.5" opacity="0.26"/>
<line x1="397.00" y1="195.63" x2="679.40" y2="195.63" stroke="#000" stroke-width="0.9" stroke-dasharray="5.7 1.75 1.3 1.75 2.2 0.9 2.2 0.9 2.2 1.3 2.2 0.9 1.75 0.9 2.6 1.75 0.9 1.75 1.3 1.75 2.2 0.9 2.6 0.9 2.2 1.3" stroke-dashoffset="43.5" opacity="0.26"/>
<line x1="397.00" y1="190.03" x2="679.40" y2="190.03" stroke="#000" stroke-width="0.9" stroke-dasharray="5.7 1.75 1.3 1.75 2.2 0.9 2.2 0.9 2.2 1.3 2.2 0.9 1.75 0.9 2.6 1.75 0.9 1.75 1.3 1.75 2.2 0.9 2.6 0.9 2.2 1.3" stroke-dashoffset="43.5" opacity="0.26"/>
<line x1="397.00" y1="186.05" x2="679.40" y2="186.05" stroke="#000" stroke-width="0.9" stroke-dasharray="5.7 1.75 1.3 1.75 2.2 0.9 2.2 0.9 2.2 1.3 2.2 0.9 1.75 0.9 2.6 1.75 0.9 1.75 1.3 1.75 2.2 0.9 2.6 0.9 2.2 1.3" stroke-dashoffset="43.5" opacity="0.26"/>
<line x1="397.00" y1="182.97" x2="679.40" y2="182.97" stroke="#000" stroke-width="0.9" stroke-dasharray="5.7 1.75 1.3 1.75 2.2 0.9 2.2 0.9 2.2 1.3 2.2 0.9 1.75 0.9 2.6 1.75 0.9 1.75 1.3 1.75 2.2 0.9 2.6 0.9 2.2 1.3" stroke-dashoffset="43.5" opacity="0.26"/>
<line x1="397.00" y1="180.45" x2="679.40" y2="180.45" stroke="#000" stroke-width="0.9" stroke-dasharray="5.7 1.75 1.3 1.75 2.2 0.9 2.2 0.9 2.2 1.3 2.2 0.9 1.75 0.9 2.6 1.75 0.9 1.75 1.3 1.75 2.2 0.9 2.6 0.9 2.2 1.3" stroke-dashoffset="43.5" opacity="0.26"/>
<line x1="397.00" y1="178.33" x2="679.40" y2="178.33" stroke="#000" stroke-width="0.9" stroke-dasharray="5.7 1.75 1.3 1.75 2.2 0.9 2.2 0.9 2.2 1.3 2.2 0.9 1.75 0.9 2.6 1.75 0.9 1.75 1.3 1.75 2.2 0.9 2.6 0.9 2.2 1.3" stroke-dashoffset="43.5" opacity="0.26"/>
<line x1="397.00" y1="176.48" x2="679.40" y2="176.48" stroke="#000" stroke-width="0.9" stroke-dasharray="5.7 1.75 1.3 1.75 2.2 0.9 2.2 0.9 2.2 1.3 2.2 0.9 1.75 0.9 2.6 1.75 0.9 1.75 1.3 1.75 2.2 0.9 2.6 0.9 2.2 1.3" stroke-dashoffset="43.5" opacity="0.26"/>
<line x1="397.00" y1="174.86" x2="679.40" y2="174.86" stroke="#000" stroke-width="0.9" stroke-dasharray="5.7 1.75 1.3 1.75 2.2 0.9 2.2 0.9 2.2 1.3 2.2 0.9 1.75 0.9 2.6 1.75 0.9 1.75 1.3 1.75 2.2 0.9 2.6 0.9 2.2 1.3" stroke-dashoffset="43.5" opacity="0.26"/>
<line x1="397.00" y1="227.43" x2="679.40" y2="227.43" stroke="#000" stroke-width="0.9" stroke-dasharray="5.7 1.75 1.3 1.75 2.2 0.9 2.2 0.9 2.2 1.3 2.2 0.9 1.75 0.9 2.6 1.75 0.9 1.75 1.3 1.75 2.2 0.9 2.6 0.9 2.2 1.3" stroke-dashoffset="43.5" opacity="0.26"/>
<line x1="397.00" y1="221.83" x2="679.40" y2="221.83" stroke="#000" stroke-width="0.9" stroke-dasharray="5.7 1.75 1.3 1.75 2.2 0.9 2.2 0.9 2.2 1.3 2.2 0.9 1.75 0.9 2.6 1.75 0.9 1.75 1.3 1.75 2.2 0.9 2.6 0.9 2.2 1.3" stroke-dashoffset="43.5" opacity="0.26"/>
<line x1="397.00" y1="217.85" x2="679.40" y2="217.85" stroke="#000" stroke-width="0.9" stroke-dasharray="5.7 1.75 1.3 1.75 2.2 0.9 2.2 0.9 2.2 1.3 2.2 0.9 1.75 0.9 2.6 1.75 0.9 1.75 1.3 1.75 2.2 0.9 2.6 0.9 2.2 1.3" stroke-dashoffset="43.5" opacity="0.26"/>
<line x1="397.00" y1="214.77" x2="679.40" y2="214.77" stroke="#000" stroke-width="0.9" stroke-dasharray="5.7 1.75 1.3 1.75 2.2 0.9 2.2 0.9 2.2 1.3 2.2 0.9 1.75 0.9 2.6 1.75 0.9 1.75 1.3 1.75 2.2 0.9 2.6 0.9 2.2 1.3" stroke-dashoffset="43.5" opacity="0.26"/>
<line x1="397.00" y1="212.25" x2="679.40" y2="212.25" stroke="#000" stroke-width="0.9" stroke-dasharray="5.7 1.75 1.3 1.75 2.2 0.9 2.2 0.9 2.2 1.3 2.2 0.9 1.75 0.9 2.6 1.75 0.9 1.75 1.3 1.75 2.2 0.9 2.6 0.9 2.2 1.3" stroke-dashoffset="43.5" opacity="0.26"/>
<line x1="397.00" y1="210.13" x2="679.40" y2="210.13" stroke="#000" stroke-width="0.9" stroke-dasharray="5.7 1.75 1.3 1.75 2.2 0.9 2.2 0.9 2.2 1.3 2.2 0.9 1.75 0.9 2.6 1.75 0.9 1.75 1.3 1.75 2.2 0.9 2.6 0.9 2.2 1.3" stroke-dashoffset="43.5" opacity="0.26"/>
<line x1="397.00" y1="208.28" x2="679.40" y2="208.28" stroke="#000" stroke-width="0.9" stroke-dasharray="5.7 1.75 1.3 1.75 2.2 0.9 2.2 0.9 2.2 1.3 2.2 0.9 1.75 0.9 2.6 1.75 0.9 1.75 1.3 1.75 2.2 0.9 2.6 0.9 2.2 1.3" stroke-dashoffset="43.5" opacity="0.26"/>
<line x1="397.00" y1="206.66" x2="679.40" y2="206.66" stroke="#000" stroke-width="0.9" stroke-dasharray="5.7 1.75 1.3 1.75 2.2 0.9 2.2 0.9 2.2 1.3 2.2 0.9 1.75 0.9 2.6 1.75 0.9 1.75 1.3 1.75 2.2 0.9 2.6 0.9 2.2 1.3" stroke-dashoffset="43.5" opacity="0.26"/>
<line x1="397.00" y1="259.23" x2="679.40" y2="259.23" stroke="#000" stroke-width="0.9" stroke-dasharray="5.7 1.75 1.3 1.75 2.2 0.9 2.2 0.9 2.2 1.3 2.2 0.9 1.75 0.9 2.6 1.75 0.9 1.75 1.3 1.75 2.2 0.9 2.6 0.9 2.2 1.3" stroke-dashoffset="43.5" opacity="0.26"/>
<line x1="397.00" y1="253.63" x2="679.40" y2="253.63" stroke="#000" stroke-width="0.9" stroke-dasharray="5.7 1.75 1.3 1.75 2.2 0.9 2.2 0.9 2.2 1.3 2.2 0.9 1.75 0.9 2.6 1.75 0.9 1.75 1.3 1.75 2.2 0.9 2.6 0.9 2.2 1.3" stroke-dashoffset="43.5" opacity="0.26"/>
<line x1="397.00" y1="249.65" x2="679.40" y2="249.65" stroke="#000" stroke-width="0.9" stroke-dasharray="5.7 1.75 1.3 1.75 2.2 0.9 2.2 0.9 2.2 1.3 2.2 0.9 1.75 0.9 2.6 1.75 0.9 1.75 1.3 1.75 2.2 0.9 2.6 0.9 2.2 1.3" stroke-dashoffset="43.5" opacity="0.26"/>
<line x1="397.00" y1="246.57" x2="679.40" y2="246.57" stroke="#000" stroke-width="0.9" stroke-dasharray="5.7 1.75 1.3 1.75 2.2 0.9 2.2 0.9 2.2 1.3 2.2 0.9 1.75 0.9 2.6 1.75 0.9 1.75 1.3 1.75 2.2 0.9 2.6 0.9 2.2 1.3" stroke-dashoffset="43.5" opacity="0.26"/>
<line x1="397.00" y1="244.05" x2="679.40" y2="244.05" stroke="#000" stroke-width="0.9" stroke-dasharray="5.7 1.75 1.3 1.75 2.2 0.9 2.2 0.9 2.2 1.3 2.2 0.9 1.75 0.9 2.6 1.75 0.9 1.75 1.3 1.75 2.2 0.9 2.6 0.9 2.2 1.3" stroke-dashoffset="43.5" opacity="0.26"/>
<line x1="397.00" y1="241.93" x2="679.40" y2="241.93" stroke="#000" stroke-width="0.9" stroke-dasharray="5.7 1.75 1.3 1.75 2.2 0.9 2.2 0.9 2.2 1.3 2.2 0.9 1.75 0.9 2.6 1.75 0.9 1.75 1.3 1.75 2.2 0.9 2.6 0.9 2.2 1.3" stroke-dashoffset="43.5" opacity="0.26"/>
<line x1="397.00" y1="240.08" x2="679.40" y2="240.08" stroke="#000" stroke-width="0.9" stroke-dasharray="5.7 1.75 1.3 1.75 2.2 0.9 2.2 0.9 2.2 1.3 2.2 0.9 1.75 0.9 2.6 1.75 0.9 1.75 1.3 1.75 2.2 0.9 2.6 0.9 2.2 1.3" stroke-dashoffset="43.5" opacity="0.26"/>
<line x1="397.00" y1="238.46" x2="679.40" y2="238.46" stroke="#000" stroke-width="0.9" stroke-dasharray="5.7 1.75 1.3 1.75 2.2 0.9 2.2 0.9 2.2 1.3 2.2 0.9 1.75 0.9 2.6 1.75 0.9 1.75 1.3 1.75 2.2 0.9 2.6 0.9 2.2 1.3" stroke-dashoffset="43.5" opacity="0.26"/>
<line x1="397.00" y1="46.20" x2="679.40" y2="46.20" stroke="#000" stroke-width="0.9" stroke-dasharray="5.7 1.75 1.3 1.75 2.2 0.9 2.2 0.9 2.2 1.3 2.2 0.9 1.75 0.9 2.6 1.75 0.9 1.75 1.3 1.75 2.2 0.9 2.6 0.9 2.2 1.3" stroke-dashoffset="43.5" opacity="0.26"/>
<line x1="397.00" y1="78.00" x2="679.40" y2="78.00" stroke="#dedede" stroke-width="1.1" />
<line x1="397.00" y1="109.80" x2="679.40" y2="109.80" stroke="#000" stroke-width="0.9" stroke-dasharray="5.7 1.75 1.3 1.75 2.2 0.9 2.2 0.9 2.2 1.3 2.2 0.9 1.75 0.9 2.6 1.75 0.9 1.75 1.3 1.75 2.2 0.9 2.6 0.9 2.2 1.3" stroke-dashoffset="43.5" opacity="0.26"/>
<line x1="397.00" y1="141.60" x2="679.40" y2="141.60" stroke="#dedede" stroke-width="1.1" />
<line x1="397.00" y1="173.40" x2="679.40" y2="173.40" stroke="#000" stroke-width="0.9" stroke-dasharray="5.7 1.75 1.3 1.75 2.2 0.9 2.2 0.9 2.2 1.3 2.2 0.9 1.75 0.9 2.6 1.75 0.9 1.75 1.3 1.75 2.2 0.9 2.6 0.9 2.2 1.3" stroke-dashoffset="43.5" opacity="0.26"/>
<line x1="397.00" y1="205.20" x2="679.40" y2="205.20" stroke="#dedede" stroke-width="1.1" />
<line x1="397.00" y1="237.00" x2="679.40" y2="237.00" stroke="#000" stroke-width="0.9" stroke-dasharray="5.7 1.75 1.3 1.75 2.2 0.9 2.2 0.9 2.2 1.3 2.2 0.9 1.75 0.9 2.6 1.75 0.9 1.75 1.3 1.75 2.2 0.9 2.6 0.9 2.2 1.3" stroke-dashoffset="43.5" opacity="0.26"/>
<line x1="401.71" y1="14.40" x2="401.71" y2="268.80" stroke="#000" stroke-width="0.7" opacity="0.02"/>
<line x1="406.41" y1="14.40" x2="406.41" y2="268.80" stroke="#000" stroke-width="0.7" opacity="0.02"/>
<line x1="411.12" y1="14.40" x2="411.12" y2="268.80" stroke="#000" stroke-width="0.7" opacity="0.02"/>
<line x1="415.83" y1="14.40" x2="415.83" y2="268.80" stroke="#000" stroke-width="0.7" opacity="0.02"/>
<line x1="420.53" y1="14.40" x2="420.53" y2="268.80" stroke="#000" stroke-width="0.7" opacity="0.02"/>
<line x1="425.24" y1="14.40" x2="425.24" y2="268.80" stroke="#000" stroke-width="0.7" opacity="0.02"/>
<line x1="429.95" y1="14.40" x2="429.95" y2="268.80" stroke="#000" stroke-width="0.7" opacity="0.02"/>
<line x1="434.65" y1="14.40" x2="434.65" y2="268.80" stroke="#000" stroke-width="0.7" opacity="0.02"/>
<line x1="439.36" y1="14.40" x2="439.36" y2="268.80" stroke="#000" stroke-width="0.7" opacity="0.02"/>
<line x1="444.07" y1="14.40" x2="444.07" y2="268.80" stroke="#d2d2d2" stroke-width="0.9" />
<line x1="448.77" y1="14.40" x2="448.77" y2="268.80" stroke="#000" stroke-width="0.7" opacity="0.02"/>
<line x1="453.48" y1="14.40" x2="453.48" y2="268.80" stroke="#000" stroke-width="0.7" opacity="0.02"/>
<line x1="458.19" y1="14.40" x2="458.19" y2="268.80" stroke="#000" stroke-width="0.7" opacity="0.02"/>
<line x1="462.89" y1="14.40" x2="462.89" y2="268.80" stroke="#000" stroke-width="0.7" opacity="0.02"/>
<line x1="467.60" y1="14.40" x2="467.60" y2="268.80" stroke="#000" stroke-width="0.7" opacity="0.02"/>
<line x1="472.31" y1="14.40" x2="472.31" y2="268.80" stroke="#000" stroke-width="0.7" opacity="0.02"/>
<line x1="477.01" y1="14.40" x2="477.01" y2="268.80" stroke="#000" stroke-width="0.7" opacity="0.02"/>
<line x1="481.72" y1="14.40" x2="481.72" y2="268.80" stroke="#000" stroke-width="0.7" opacity="0.02"/>
<line x1="486.43" y1="14.40" x2="486.43" y2="268.80" stroke="#000" stroke-width="0.7" opacity="0.02"/>
<line x1="491.13" y1="14.40" x2="491.13" y2="268.80" stroke="#d2d2d2" stroke-width="0.9" />
<line x1="495.84" y1="14.40" x2="495.84" y2="268.80" stroke="#000" stroke-width="0.7" opacity="0.02"/>
<line x1="500.55" y1="14.40" x2="500.55" y2="268.80" stroke="#000" stroke-width="0.7" opacity="0.02"/>
<line x1="505.25" y1="14.40" x2="505.25" y2="268.80" stroke="#000" stroke-width="0.7" opacity="0.02"/>
<line x1="509.96" y1="14.40" x2="509.96" y2="268.80" stroke="#000" stroke-width="0.7" opacity="0.02"/>
<line x1="514.67" y1="14.40" x2="514.67" y2="268.80" stroke="#000" stroke-width="0.7" opacity="0.02"/>
<line x1="519.37" y1="14.40" x2="519.37" y2="268.80" stroke="#000" stroke-width="0.7" opacity="0.02"/>
<line x1="524.08" y1="14.40" x2="524.08" y2="268.80" stroke="#000" stroke-width="0.7" opacity="0.02"/>
<line x1="528.79" y1="14.40" x2="528.79" y2="268.80" stroke="#000" stroke-width="0.7" opacity="0.02"/>
<line x1="533.49" y1="14.40" x2="533.49" y2="268.80" stroke="#000" stroke-width="0.7" opacity="0.02"/>
<line x1="538.20" y1="14.40" x2="538.20" y2="268.80" stroke="#d2d2d2" stroke-width="0.9" />
<line x1="542.91" y1="14.40" x2="542.91" y2="268.80" stroke="#000" stroke-width="0.7" opacity="0.02"/>
<line x1="547.61" y1="14.40" x2="547.61" y2="268.80" stroke="#000" stroke-width="0.7" opacity="0.02"/>
<line x1="552.32" y1="14.40" x2="552.32" y2="268.80" stroke="#000" stroke-width="0.7" opacity="0.02"/>
<line x1="557.03" y1="14.40" x2="557.03" y2="268.80" stroke="#000" stroke-width="0.7" opacity="0.02"/>
<line x1="561.73" y1="14.40" x2="561.73" y2="268.80" stroke="#000" stroke-width="0.7" opacity="0.02"/>
<line x1="566.44" y1="14.40" x2="566.44" y2="268.80" stroke="#000" stroke-width="0.7" opacity="0.02"/>
<line x1="571.15" y1="14.40" x2="571.15" y2="268.80" stroke="#000" stroke-width="0.7" opacity="0.02"/>
<line x1="575.85" y1="14.40" x2="575.85" y2="268.80" stroke="#000" stroke-width="0.7" opacity="0.02"/>
<line x1="580.56" y1="14.40" x2="580.56" y2="268.80" stroke="#000" stroke-width="0.7" opacity="0.02"/>
<line x1="585.27" y1="14.40" x2="585.27" y2="268.80" stroke="#d2d2d2" stroke-width="0.9" />
<line x1="589.97" y1="14.40" x2="589.97" y2="268.80" stroke="#000" stroke-width="0.7" opacity="0.02"/>
<line x1="594.68" y1="14.40" x2="594.68" y2="268.80" stroke="#000" stroke-width="0.7" opacity="0.02"/>
<line x1="599.39" y1="14.40" x2="599.39" y2="268.80" stroke="#000" stroke-width="0.7" opacity="0.02"/>
<line x1="604.09" y1="14.40" x2="604.09" y2="268.80" stroke="#000" stroke-width="0.7" opacity="0.02"/>
<line x1="608.80" y1="14.40" x2="608.80" y2="268.80" stroke="#000" stroke-width="0.7" opacity="0.02"/>
<line x1="613.51" y1="14.40" x2="613.51" y2="268.80" stroke="#000" stroke-width="0.7" opacity="0.02"/>
<line x1="618.21" y1="14.40" x2="618.21" y2="268.80" stroke="#000" stroke-width="0.7" opacity="0.02"/>
<line x1="622.92" y1="14.40" x2="622.92" y2="268.80" stroke="#000" stroke-width="0.7" opacity="0.02"/>
<line x1="627.63" y1="14.40" x2="627.63" y2="268.80" stroke="#000" stroke-width="0.7" opacity="0.02"/>
<line x1="632.33" y1="14.40" x2="632.33" y2="268.80" stroke="#d2d2d2" stroke-width="0.9" />
<line x1="637.04" y1="14.40" x2="637.04" y2="268.80" stroke="#000" stroke-width="0.7" opacity="0.02"/>
<line x1="641.75" y1="14.40" x2="641.75" y2="268.80" stroke="#000" stroke-width="0.7" opacity="0.02"/>
<line x1="646.45" y1="14.40" x2="646.45" y2="268.80" stroke="#000" stroke-width="0.7" opacity="0.02"/>
<line x1="651.16" y1="14.40" x2="651.16" y2="268.80" stroke="#000" stroke-width="0.7" opacity="0.02"/>
<line x1="655.87" y1="14.40" x2="655.87" y2="268.80" stroke="#000" stroke-width="0.7" opacity="0.02"/>
<line x1="660.57" y1="14.40" x2="660.57" y2="268.80" stroke="#000" stroke-width="0.7" opacity="0.02"/>
<line x1="665.28" y1="14.40" x2="665.28" y2="268.80" stroke="#000" stroke-width="0.7" opacity="0.02"/>
<line x1="669.99" y1="14.40" x2="669.99" y2="268.80" stroke="#000" stroke-width="0.7" opacity="0.02"/>
<line x1="674.69" y1="14.40" x2="674.69" y2="268.80" stroke="#000" stroke-width="0.7" opacity="0.02"/>
<rect x="397.00" y="14.40" width="282.40" height="254.40" fill="none" stroke="#262626" stroke-width="1.15" />
<line x1="444.07" y1="268.80" x2="444.07" y2="264.00" stroke="#262626" stroke-width="1.05" />
<line x1="444.07" y1="14.40" x2="444.07" y2="19.20" stroke="#262626" stroke-width="1.05" />
<line x1="491.13" y1="268.80" x2="491.13" y2="264.00" stroke="#262626" stroke-width="1.05" />
<line x1="491.13" y1="14.40" x2="491.13" y2="19.20" stroke="#262626" stroke-width="1.05" />
<line x1="538.20" y1="268.80" x2="538.20" y2="264.00" stroke="#262626" stroke-width="1.05" />
<line x1="538.20" y1="14.40" x2="538.20" y2="19.20" stroke="#262626" stroke-width="1.05" />
<line x1="585.27" y1="268.80" x2="585.27" y2="264.00" stroke="#262626" stroke-width="1.05" />
<line x1="585.27" y1="14.40" x2="585.27" y2="19.20" stroke="#262626" stroke-width="1.05" />
<line x1="632.33" y1="268.80" x2="632.33" y2="264.00" stroke="#262626" stroke-width="1.05" />
<line x1="632.33" y1="14.40" x2="632.33" y2="19.20" stroke="#262626" stroke-width="1.05" />
<text transform="translate(396.20,282.10) scale(0.6050,1) rotate(0.03)" font-family='"Liberation Sans", sans-serif' font-size="9.9" text-anchor="middle" font-weight="normal" font-style="normal" fill="#262626" stroke="#262626" stroke-width="0.45" >0</text>
<text transform="translate(443.27,282.10) scale(0.6050,1) rotate(0.03)" font-family='"Liberation Sans", sans-serif' font-size="9.9" text-anchor="middle" font-weight="normal" font-style="normal" fill="#262626" stroke="#262626" stroke-width="0.45" >200</text>
<text transform="translate(490.33,282.10) scale(0.6050,1) rotate(0.03)" font-family='"Liberation Sans", sans-serif' font-size="9.9" text-anchor="middle" font-weight="normal" font-style="normal" fill="#262626" stroke="#262626" stroke-width="0.45" >400</text>
<text transform="translate(537.40,282.10) scale(0.6050,1) rotate(0.03)" font-family='"Liberation Sans", sans-serif' font-size="9.9" text-anchor="middle" font-weight="normal" font-style="normal" fill="#262626" stroke="#262626" stroke-width="0.45" >600</text>
<text transform="translate(584.47,282.10) scale(0.6050,1) rotate(0.03)" font-family='"Liberation Sans", sans-serif' font-size="9.9" text-anchor="middle" font-weight="normal" font-style="normal" fill="#262626" stroke="#262626" stroke-width="0.45" >800</text>
<text transform="translate(631.53,282.10) scale(0.6050,1) rotate(0.03)" font-family='"Liberation Sans", sans-serif' font-size="9.9" text-anchor="middle" font-weight="normal" font-style="normal" fill="#262626" stroke="#262626" stroke-width="0.45" >1000</text>
<text transform="translate(678.60,282.10) scale(0.6050,1) rotate(0.03)" font-family='"Liberation Sans", sans-serif' font-size="9.9" text-anchor="middle" font-weight="normal" font-style="normal" fill="#262626" stroke="#262626" stroke-width="0.45" >1200</text>
<line x1="397.00" y1="36.63" x2="398.60" y2="36.63" stroke="#262626" stroke-width="0.9" />
<line x1="679.40" y1="36.63" x2="677.80" y2="36.63" stroke="#262626" stroke-width="0.9" />
<line x1="397.00" y1="31.03" x2="398.60" y2="31.03" stroke="#262626" stroke-width="0.9" />
<line x1="679.40" y1="31.03" x2="677.80" y2="31.03" stroke="#262626" stroke-width="0.9" />
<line x1="397.00" y1="27.05" x2="398.60" y2="27.05" stroke="#262626" stroke-width="0.9" />
<line x1="679.40" y1="27.05" x2="677.80" y2="27.05" stroke="#262626" stroke-width="0.9" />
<line x1="397.00" y1="23.97" x2="398.60" y2="23.97" stroke="#262626" stroke-width="0.9" />
<line x1="679.40" y1="23.97" x2="677.80" y2="23.97" stroke="#262626" stroke-width="0.9" />
<line x1="397.00" y1="21.45" x2="398.60" y2="21.45" stroke="#262626" stroke-width="0.9" />
<line x1="679.40" y1="21.45" x2="677.80" y2="21.45" stroke="#262626" stroke-width="0.9" />
<line x1="397.00" y1="19.33" x2="398.60" y2="19.33" stroke="#262626" stroke-width="0.9" />
<line x1="679.40" y1="19.33" x2="677.80" y2="19.33" stroke="#262626" stroke-width="0.9" />
<line x1="397.00" y1="17.48" x2="398.60" y2="17.48" stroke="#262626" stroke-width="0.9" />
<line x1="679.40" y1="17.48" x2="677.80" y2="17.48" stroke="#262626" stroke-width="0.9" />
<line x1="397.00" y1="15.86" x2="398.60" y2="15.86" stroke="#262626" stroke-width="0.9" />
<line x1="679.40" y1="15.86" x2="677.80" y2="15.86" stroke="#262626" stroke-width="0.9" />
<line x1="397.00" y1="68.43" x2="398.60" y2="68.43" stroke="#262626" stroke-width="0.9" />
<line x1="679.40" y1="68.43" x2="677.80" y2="68.43" stroke="#262626" stroke-width="0.9" />
<line x1="397.00" y1="62.83" x2="398.60" y2="62.83" stroke="#262626" stroke-width="0.9" />
<line x1="679.40" y1="62.83" x2="677.80" y2="62.83" stroke="#262626" stroke-width="0.9" />
<line x1="397.00" y1="58.85" x2="398.60" y2="58.85" stroke="#262626" stroke-width="0.9" />
<line x1="679.40" y1="58.85" x2="677.80" y2="58.85" stroke="#262626" stroke-width="0.9" />
<line x1="397.00" y1="55.77" x2="398.60" y2="55.77" stroke="#262626" stroke-width="0.9" />
<line x1="679.40" y1="55.77" x2="677.80" y2="55.77" stroke="#262626" stroke-width="0.9" />
<line x1="397.00" y1="53.25" x2="398.60" y2="53.25" stroke="#262626" stroke-width="0.9" />
<line x1="679.40" y1="53.25" x2="677.80" y2="53.25" stroke="#262626" stroke-width="0.9" />
<line x1="397.00" y1="51.13" x2="398.60" y2="51.13" stroke="#262626" stroke-width="0.9" />
<line x1="679.40" y1="51.13" x2="677.80" y2="51.13" stroke="#262626" stroke-width="0.9" />
<line x1="397.00" y1="49.28" x2="398.60" y2="49.28" stroke="#262626" stroke-width="0.9" />
<line x1="679.40" y1="49.28" x2="677.80" y2="49.28" stroke="#262626" stroke-width="0.9" />
<line x1="397.00" y1="47.66" x2="398.60" y2="47.66" stroke="#262626" stroke-width="0.9" />
<line x1="679.40" y1="47.66" x2="677.80" y2="47.66" stroke="#262626" stroke-width="0.9" />
<line x1="397.00" y1="46.20" x2="398.60" y2="46.20" stroke="#262626" stroke-width="0.9" />
<line x1="679.40" y1="46.20" x2="677.80" y2="46.20" stroke="#262626" stroke-width="0.9" />
<line x1="397.00" y1="100.23" x2="398.60" y2="100.23" stroke="#262626" stroke-width="0.9" />
<line x1="679.40" y1="100.23" x2="677.80" y2="100.23" stroke="#262626" stroke-width="0.9" />
<line x1="397.00" y1="94.63" x2="398.60" y2="94.63" stroke="#262626" stroke-width="0.9" />
<line x1="679.40" y1="94.63" x2="677.80" y2="94.63" stroke="#262626" stroke-width="0.9" />
<line x1="397.00" y1="90.65" x2="398.60" y2="90.65" stroke="#262626" stroke-width="0.9" />
<line x1="679.40" y1="90.65" x2="677.80" y2="90.65" stroke="#262626" stroke-width="0.9" />
<line x1="397.00" y1="87.57" x2="398.60" y2="87.57" stroke="#262626" stroke-width="0.9" />
<line x1="679.40" y1="87.57" x2="677.80" y2="87.57" stroke="#262626" stroke-width="0.9" />
<line x1="397.00" y1="85.05" x2="398.60" y2="85.05" stroke="#262626" stroke-width="0.9" />
<line x1="679.40" y1="85.05" x2="677.80" y2="85.05" stroke="#262626" stroke-width="0.9" />
<line x1="397.00" y1="82.93" x2="398.60" y2="82.93" stroke="#262626" stroke-width="0.9" />
<line x1="679.40" y1="82.93" x2="677.80" y2="82.93" stroke="#262626" stroke-width="0.9" />
<line x1="397.00" y1="81.08" x2="398.60" y2="81.08" stroke="#262626" stroke-width="0.9" />
<line x1="679.40" y1="81.08" x2="677.80" y2="81.08" stroke="#262626" stroke-width="0.9" />
<line x1="397.00" y1="79.46" x2="398.60" y2="79.46" stroke="#262626" stroke-width="0.9" />
<line x1="679.40" y1="79.46" x2="677.80" y2="79.46" stroke="#262626" stroke-width="0.9" />
<line x1="397.00" y1="78.00" x2="400.00" y2="78.00" stroke="#262626" stroke-width="1.25" />
<line x1="679.40" y1="78.00" x2="676.40" y2="78.00" stroke="#262626" stroke-width="1.25" />
<line x1="397.00" y1="132.03" x2="398.60" y2="132.03" stroke="#262626" stroke-width="0.9" />
<line x1="679.40" y1="132.03" x2="677.80" y2="132.03" stroke="#262626" stroke-width="0.9" />
<line x1="397.00" y1="126.43" x2="398.60" y2="126.43" stroke="#262626" stroke-width="0.9" />
<line x1="679.40" y1="126.43" x2="677.80" y2="126.43" stroke="#262626" stroke-width="0.9" />
<line x1="397.00" y1="122.45" x2="398.60" y2="122.45" stroke="#262626" stroke-width="0.9" />
<line x1="679.40" y1="122.45" x2="677.80" y2="122.45" stroke="#262626" stroke-width="0.9" />
<line x1="397.00" y1="119.37" x2="398.60" y2="119.37" stroke="#262626" stroke-width="0.9" />
<line x1="679.40" y1="119.37" x2="677.80" y2="119.37" stroke="#262626" stroke-width="0.9" />
<line x1="397.00" y1="116.85" x2="398.60" y2="116.85" stroke="#262626" stroke-width="0.9" />
<line x1="679.40" y1="116.85" x2="677.80" y2="116.85" stroke="#262626" stroke-width="0.9" />
<line x1="397.00" y1="114.73" x2="398.60" y2="114.73" stroke="#262626" stroke-width="0.9" />
<line x1="679.40" y1="114.73" x2="677.80" y2="114.73" stroke="#262626" stroke-width="0.9" />
<line x1="397.00" y1="112.88" x2="398.60" y2="112.88" stroke="#262626" stroke-width="0.9" />
<line x1="679.40" y1="112.88" x2="677.80" y2="112.88" stroke="#262626" stroke-width="0.9" />
<line x1="397.00" y1="111.26" x2="398.60" y2="111.26" stroke="#262626" stroke-width="0.9" />
<line x1="679.40" y1="111.26" x2="677.80" y2="111.26" stroke="#262626" stroke-width="0.9" />
<line x1="397.00" y1="109.80" x2="398.60" y2="109.80" stroke="#262626" stroke-width="0.9" />
<line x1="679.40" y1="109.80" x2="677.80" y2="109.80" stroke="#262626" stroke-width="0.9" />
<line x1="397.00" y1="163.83" x2="398.60" y2="163.83" stroke="#262626" stroke-width="0.9" />
<line x1="679.40" y1="163.83" x2="677.80" y2="163.83" stroke="#262626" stroke-width="0.9" />
<line x1="397.00" y1="158.23" x2="398.60" y2="158.23" stroke="#262626" stroke-width="0.9" />
<line x1="679.40" y1="158.23" x2="677.80" y2="158.23" stroke="#262626" stroke-width="0.9" />
<line x1="397.00" y1="154.25" x2="398.60" y2="154.25" stroke="#262626" stroke-width="0.9" />
<line x1="679.40" y1="154.25" x2="677.80" y2="154.25" stroke="#262626" stroke-width="0.9" />
<line x1="397.00" y1="151.17" x2="398.60" y2="151.17" stroke="#262626" stroke-width="0.9" />
<line x1="679.40" y1="151.17" x2="677.80" y2="151.17" stroke="#262626" stroke-width="0.9" />
<line x1="397.00" y1="148.65" x2="398.60" y2="148.65" stroke="#262626" stroke-width="0.9" />
<line x1="679.40" y1="148.65" x2="677.80" y2="148.65" stroke="#262626" stroke-width="0.9" />
<line x1="397.00" y1="146.53" x2="398.60" y2="146.53" stroke="#262626" stroke-width="0.9" />
<line x1="679.40" y1="146.53" x2="677.80" y2="146.53" stroke="#262626" stroke-width="0.9" />
<line x1="397.00" y1="144.68" x2="398.60" y2="144.68" stroke="#262626" stroke-width="0.9" />
<line x1="679.40" y1="144.68" x2="677.80" y2="144.68" stroke="#262626" stroke-width="0.9" />
<line x1="397.00" y1="143.06" x2="398.60" y2="143.06" stroke="#262626" stroke-width="0.9" />
<line x1="679.40" y1="143.06" x2="677.80" y2="143.06" stroke="#262626" stroke-width="0.9" />
<line x1="397.00" y1="141.60" x2="400.00" y2="141.60" stroke="#262626" stroke-width="1.25" />
<line x1="679.40" y1="141.60" x2="676.40" y2="141.60" stroke="#262626" stroke-width="1.25" />
<line x1="397.00" y1="195.63" x2="398.60" y2="195.63" stroke="#262626" stroke-width="0.9" />
<line x1="679.40" y1="195.63" x2="677.80" y2="195.63" stroke="#262626" stroke-width="0.9" />
<line x1="397.00" y1="190.03" x2="398.60" y2="190.03" stroke="#262626" stroke-width="0.9" />
<line x1="679.40" y1="190.03" x2="677.80" y2="190.03" stroke="#262626" stroke-width="0.9" />
<line x1="397.00" y1="186.05" x2="398.60" y2="186.05" stroke="#262626" stroke-width="0.9" />
<line x1="679.40" y1="186.05" x2="677.80" y2="186.05" stroke="#262626" stroke-width="0.9" />
<line x1="397.00" y1="182.97" x2="398.60" y2="182.97" stroke="#262626" stroke-width="0.9" />
<line x1="679.40" y1="182.97" x2="677.80" y2="182.97" stroke="#262626" stroke-width="0.9" />
<line x1="397.00" y1="180.45" x2="398.60" y2="180.45" stroke="#262626" stroke-width="0.9" />
<line x1="679.40" y1="180.45" x2="677.80" y2="180.45" stroke="#262626" stroke-width="0.9" />
<line x1="397.00" y1="178.33" x2="398.60" y2="178.33" stroke="#262626" stroke-width="0.9" />
<line x1="679.40" y1="178.33" x2="677.80" y2="178.33" stroke="#262626" stroke-width="0.9" />
<line x1="397.00" y1="176.48" x2="398.60" y2="176.48" stroke="#262626" stroke-width="0.9" />
<line x1="679.40" y1="176.48" x2="677.80" y2="176.48" stroke="#262626" stroke-width="0.9" />
<line x1="397.00" y1="174.86" x2="398.60" y2="174.86" stroke="#262626" stroke-width="0.9" />
<line x1="679.40" y1="174.86" x2="677.80" y2="174.86" stroke="#262626" stroke-width="0.9" />
<line x1="397.00" y1="173.40" x2="398.60" y2="173.40" stroke="#262626" stroke-width="0.9" />
<line x1="679.40" y1="173.40" x2="677.80" y2="173.40" stroke="#262626" stroke-width="0.9" />
<line x1="397.00" y1="227.43" x2="398.60" y2="227.43" stroke="#262626" stroke-width="0.9" />
<line x1="679.40" y1="227.43" x2="677.80" y2="227.43" stroke="#262626" stroke-width="0.9" />
<line x1="397.00" y1="221.83" x2="398.60" y2="221.83" stroke="#262626" stroke-width="0.9" />
<line x1="679.40" y1="221.83" x2="677.80" y2="221.83" stroke="#262626" stroke-width="0.9" />
<line x1="397.00" y1="217.85" x2="398.60" y2="217.85" stroke="#262626" stroke-width="0.9" />
<line x1="679.40" y1="217.85" x2="677.80" y2="217.85" stroke="#262626" stroke-width="0.9" />
<line x1="397.00" y1="214.77" x2="398.60" y2="214.77" stroke="#262626" stroke-width="0.9" />
<line x1="679.40" y1="214.77" x2="677.80" y2="214.77" stroke="#262626" stroke-width="0.9" />
<line x1="397.00" y1="212.25" x2="398.60" y2="212.25" stroke="#262626" stroke-width="0.9" />
<line x1="679.40" y1="212.25" x2="677.80" y2="212.25" stroke="#262626" stroke-width="0.9" />
<line x1="397.00" y1="210.13" x2="398.60" y2="210.13" stroke="#262626" stroke-width="0.9" />
<line x1="679.40" y1="210.13" x2="677.80" y2="210.13" stroke="#262626" stroke-width="0.9" />
<line x1="397.00" y1="208.28" x2="398.60" y2="208.28" stroke="#262626" stroke-width="0.9" />
<line x1="679.40" y1="208.28" x2="677.80" y2="208.28" stroke="#262626" stroke-width="0.9" />
<line x1="397.00" y1="206.66" x2="398.60" y2="206.66" stroke="#262626" stroke-width="0.9" />
<line x1="679.40" y1="206.66" x2="677.80" y2="206.66" stroke="#262626" stroke-width="0.9" />
<line x1="397.00" y1="205.20" x2="400.00" y2="205.20" stroke="#262626" stroke-width="1.25" />
<line x1="679.40" y1="205.20" x2="676.40" y2="205.20" stroke="#262626" stroke-width="1.25" />
<line x1="397.00" y1="259.23" x2="398.60" y2="259.23" stroke="#262626" stroke-width="0.9" />
<line x1="679.40" y1="259.23" x2="677.80" y2="259.23" stroke="#262626" stroke-width="0.9" />
<line x1="397.00" y1="253.63" x2="398.60" y2="253.63" stroke="#262626" stroke-width="0.9" />
<line x1="679.40" y1="253.63" x2="677.80" y2="253.63" stroke="#262626" stroke-width="0.9" />
<line x1="397.00" y1="249.65" x2="398.60" y2="249.65" stroke="#262626" stroke-width="0.9" />
<line x1="679.40" y1="249.65" x2="677.80" y2="249.65" stroke="#262626" stroke-width="0.9" />
<line x1="397.00" y1="246.57" x2="398.60" y2="246.57" stroke="#262626" stroke-width="0.9" />
<line x1="679.40" y1="246.57" x2="677.80" y2="246.57" stroke="#262626" stroke-width="0.9" />
<line x1="397.00" y1="244.05" x2="398.60" y2="244.05" stroke="#262626" stroke-width="0.9" />
<line x1="679.40" y1="244.05" x2="677.80" y2="244.05" stroke="#262626" stroke-width="0.9" />
<line x1="397.00" y1="241.93" x2="398.60" y2="241.93" stroke="#262626" stroke-width="0.9" />
<line x1="679.40" y1="241.93" x2="677.80" y2="241.93" stroke="#262626" stroke-width="0.9" />
<line x1="397.00" y1="240.08" x2="398.60" y2="240.08" stroke="#262626" stroke-width="0.9" />
<line x1="679.40" y1="240.08" x2="677.80" y2="240.08" stroke="#262626" stroke-width="0.9" />
<line x1="397.00" y1="238.46" x2="398.60" y2="238.46" stroke="#262626" stroke-width="0.9" />
<line x1="679.40" y1="238.46" x2="677.80" y2="238.46" stroke="#262626" stroke-width="0.9" />
<line x1="397.00" y1="237.00" x2="398.60" y2="237.00" stroke="#262626" stroke-width="0.9" />
<line x1="679.40" y1="237.00" x2="677.80" y2="237.00" stroke="#262626" stroke-width="0.9" />
<path d="M397.40,31.00 L397.70,60.00 L398.30,95.00 L399.30,110.00 L400.60,120.00 L401.70,128.20 L404.70,150.00 L406.10,160.00 L412.40,214.70 L418.90,268.80 L419.10,270.00" fill="none" stroke="#FF0000" stroke-width="1.6" stroke-linejoin="round" clip-path="url(#c2)"/>
<path d="M397.30,31.00 L397.50,80.00 L397.80,120.00 L398.20,134.00 L399.00,131.00 L400.00,128.30 L400.80,127.70 L401.80,128.20 L403.50,132.00 L405.60,138.90 L407.50,149.00 L409.00,158.40 L411.00,175.00 L415.40,208.60 L419.00,242.00 L421.90,268.80 L422.10,270.00" fill="none" stroke="#000000" stroke-width="1.6" stroke-linejoin="round" clip-path="url(#c2)"/>
<path d="M397.30,149.80 L397.60,140.00 L398.20,128.00 L399.00,122.50 L400.50,120.30 L403.00,119.50 L410.00,119.00 L430.00,118.60 L470.00,118.40 L467.60,118.40 L469.01,118.40 L470.42,118.40 L471.84,118.40 L473.25,118.40 L474.66,118.40 L476.07,118.40 L477.48,118.41 L478.90,118.41 L480.31,118.41 L481.72,118.41 L483.13,118.41 L484.54,118.41 L485.96,118.42 L487.37,118.42 L488.78,118.43 L490.19,118.43 L491.60,118.44 L493.02,118.45 L494.43,118.46 L495.84,118.47 L497.25,118.48 L498.66,118.50 L500.08,118.52 L501.49,118.54 L502.90,118.57 L504.31,118.61 L505.72,118.65 L507.14,118.70 L508.55,118.77 L509.96,118.84 L511.37,118.93 L512.78,119.04 L514.20,119.17 L515.61,119.33 L517.02,119.51 L518.43,119.73 L519.84,119.98 L521.26,120.28 L522.67,120.64 L524.08,121.05 L525.49,121.52 L526.90,122.07 L528.32,122.69 L529.73,123.39 L531.14,124.18 L532.55,125.05 L533.96,126.01 L535.38,127.06 L536.79,128.20 L538.20,129.41 L539.61,130.70 L541.02,132.07 L542.44,133.50 L543.85,134.99 L545.26,136.53 L546.67,138.12 L548.08,139.74 L549.50,141.41 L550.91,143.10 L552.32,144.82 L553.73,146.56 L555.14,148.32 L556.56,150.09 L557.97,151.88 L559.38,153.68 L560.79,155.49 L562.20,157.30 L563.62,159.13 L565.03,160.95 L566.44,162.78 L567.85,164.62 L569.26,166.46 L570.68,168.30 L572.09,170.14 L573.50,171.99 L574.91,173.83 L576.32,175.68 L577.74,177.53 L579.15,179.38 L580.56,181.23 L581.97,183.08 L583.38,184.93 L584.80,186.78 L586.21,188.63 L587.62,190.48 L589.03,192.33 L590.44,194.18 L591.86,196.04 L593.27,197.89 L594.68,199.74 L596.09,201.59 L597.50,203.45 L598.92,205.30 L600.33,207.15 L601.74,209.00 L603.15,210.86 L604.56,212.71 L605.98,214.56 L607.39,216.41 L608.80,218.27 L610.21,220.12 L611.62,221.97 L613.04,223.82 L614.45,225.68 L615.86,227.53 L617.27,229.38 L618.68,231.24 L620.10,233.09 L621.51,234.94 L622.92,236.79 L624.33,238.65 L625.74,240.50 L627.16,242.35 L628.57,244.21 L629.98,246.06 L631.39,247.91 L632.80,249.76 L634.22,251.62 L635.63,253.47 L637.04,255.32 L638.45,257.17 L639.86,259.03 L641.28,260.88 L642.69,262.73 L644.10,264.59 L645.51,266.44 L646.92,268.29 L647.50,268.80" fill="none" stroke="#C010C0" stroke-width="1.7" stroke-linejoin="round" clip-path="url(#c2)"/>
<path d="M397.30,126.00 L397.60,112.00 L398.20,100.00 L399.00,94.00 L400.20,92.20 L402.00,91.60 L406.00,91.40 L411.00,91.60 L414.00,92.60 L416.00,94.50 L417.30,96.50 L418.40,98.60 L418.80,98.80 L418.80,89.70 L418.80,122.80 L419.80,121.20 L421.20,119.60 L422.70,118.90 L424.20,120.20 L426.10,123.80 L428.60,132.50 L430.50,140.00 L433.60,160.00 L440.00,184.00 L446.80,210.60 L453.50,238.00 L460.10,268.80 L460.40,270.00" fill="none" stroke="#0000FF" stroke-width="1.9" stroke-linejoin="round" stroke-dasharray="4.6 1.2 1.3 1.2" clip-path="url(#c2)"/>
<path d="M397.20,60.00 L397.25,131.00" fill="none" stroke="#007F00" stroke-width="1.5" stroke-linejoin="round" clip-path="url(#c2)"/>
<path d="M397.30,121.00 L398.20,123.80 L399.30,124.60 L429.60,160.00 L520.20,268.80 L521.00,269.80" fill="none" stroke="#007F00" stroke-width="1.5" stroke-linejoin="round" stroke-dasharray="4.6 1.2 1.3 1.2" clip-path="url(#c2)"/>
<path d="M397.20,78.00 L397.50,42.00 L463.30,268.80 L463.70,270.00" fill="none" stroke="#6BCB2F" stroke-width="1.8" stroke-linejoin="round" clip-path="url(#c2)"/>
<text transform="translate(391.00,19.30) scale(0.6090,1) rotate(0.03)" font-family='"Liberation Sans", sans-serif' font-size="9.8" text-anchor="end" font-weight="normal" font-style="normal" fill="#262626" stroke="#262626" stroke-width="0.45" >10</text>
<text transform="translate(392.00,14.50) scale(0.5600,1) rotate(0.03)" font-family='"Liberation Sans", sans-serif' font-size="8.1" text-anchor="start" font-weight="normal" font-style="normal" fill="#262626" stroke="#262626" stroke-width="0.45" >2</text>
<text transform="translate(391.00,82.90) scale(0.6090,1) rotate(0.03)" font-family='"Liberation Sans", sans-serif' font-size="9.8" text-anchor="end" font-weight="normal" font-style="normal" fill="#262626" stroke="#262626" stroke-width="0.45" >10</text>
<text transform="translate(392.00,78.10) scale(0.5600,1) rotate(0.03)" font-family='"Liberation Sans", sans-serif' font-size="8.1" text-anchor="start" font-weight="normal" font-style="normal" fill="#262626" stroke="#262626" stroke-width="0.45" >0</text>
<text transform="translate(388.90,146.50) scale(0.6090,1) rotate(0.03)" font-family='"Liberation Sans", sans-serif' font-size="9.8" text-anchor="end" font-weight="normal" font-style="normal" fill="#262626" stroke="#262626" stroke-width="0.45" >10</text>
<text transform="translate(390.40,141.70) scale(0.5600,1) rotate(0.03)" font-family='"Liberation Sans", sans-serif' font-size="8.1" text-anchor="start" font-weight="normal" font-style="normal" fill="#262626" stroke="#262626" stroke-width="0.45" >-2</text>
<text transform="translate(388.90,210.10) scale(0.6090,1) rotate(0.03)" font-family='"Liberation Sans", sans-serif' font-size="9.8" text-anchor="end" font-weight="normal" font-style="normal" fill="#262626" stroke="#262626" stroke-width="0.45" >10</text>
<text transform="translate(390.40,205.30) scale(0.5600,1) rotate(0.03)" font-family='"Liberation Sans", sans-serif' font-size="8.1" text-anchor="start" font-weight="normal" font-style="normal" fill="#262626" stroke="#262626" stroke-width="0.45" >-4</text>
<text transform="translate(388.90,273.70) scale(0.6090,1) rotate(0.03)" font-family='"Liberation Sans", sans-serif' font-size="9.8" text-anchor="end" font-weight="normal" font-style="normal" fill="#262626" stroke="#262626" stroke-width="0.45" >10</text>
<text transform="translate(390.40,268.90) scale(0.5600,1) rotate(0.03)" font-family='"Liberation Sans", sans-serif' font-size="8.1" text-anchor="start" font-weight="normal" font-style="normal" fill="#262626" stroke="#262626" stroke-width="0.45" >-6</text>
<text transform="translate(378.9,148.20) scale(0.585,1) rotate(-90)" font-family='"Liberation Serif", serif' font-style="italic" font-size="12.5" fill="#262626" stroke="#262626" stroke-width="0.3">E<tspan font-size="8.6" dy="2.2">n</tspan></text>
<text transform="translate(533.60,295.70) scale(0.5820,1) rotate(0.03)" font-family='"Liberation Sans", sans-serif' font-size="11.2" text-anchor="middle" font-weight="normal" font-style="normal" fill="#262626" stroke="#262626" stroke-width="0.45" >Number of iterations</text>
<rect x="616.30" y="22.40" width="55.50" height="68.70" fill="#fff" stroke="#262626" stroke-width="1.0" />
<line x1="617.80" y1="29.10" x2="628.90" y2="29.10" stroke="#FF0000" stroke-width="1.7" />
<text transform="translate(629.90,32.30) scale(0.5780,1) rotate(0.03)" font-family='"Liberation Sans", sans-serif' font-size="9.2" text-anchor="start" font-weight="normal" font-style="normal" fill="#000" stroke="#000" stroke-width="0.45" >YAS Alg. 1</text>
<line x1="617.80" y1="40.27" x2="628.90" y2="40.27" stroke="#000000" stroke-width="1.7" />
<text transform="translate(629.90,43.47) scale(0.5780,1) rotate(0.03)" font-family='"Liberation Sans", sans-serif' font-size="9.2" text-anchor="start" font-weight="normal" font-style="normal" fill="#000" stroke="#000" stroke-width="0.45" >YAS Alg. 2</text>
<line x1="617.80" y1="51.44" x2="628.90" y2="51.44" stroke="#C010C0" stroke-width="1.7" />
<text transform="translate(629.90,54.64) scale(0.5780,1) rotate(0.03)" font-family='"Liberation Sans", sans-serif' font-size="9.2" text-anchor="start" font-weight="normal" font-style="normal" fill="#000" stroke="#000" stroke-width="0.45" >WW Alg. 1</text>
<line x1="617.80" y1="62.61" x2="628.90" y2="62.61" stroke="#0000FF" stroke-width="1.7" stroke-dasharray="3.2 1 1 1"/>
<text transform="translate(629.90,65.81) scale(0.5780,1) rotate(0.03)" font-family='"Liberation Sans", sans-serif' font-size="9.2" text-anchor="start" font-weight="normal" font-style="normal" fill="#000" stroke="#000" stroke-width="0.45" >TLDHT Alg. 3.1</text>
<line x1="617.80" y1="73.78" x2="628.90" y2="73.78" stroke="#007F00" stroke-width="1.7" stroke-dasharray="3.2 1 1 1"/>
<text transform="translate(629.90,76.98) scale(0.5780,1) rotate(0.03)" font-family='"Liberation Sans", sans-serif' font-size="9.2" text-anchor="start" font-weight="normal" font-style="normal" fill="#000" stroke="#000" stroke-width="0.45" >YIS Alg. 1</text>
<line x1="617.80" y1="84.95" x2="628.90" y2="84.95" stroke="#6BCB2F" stroke-width="1.7" />
<text transform="translate(629.90,88.15) scale(0.5780,1) rotate(0.03)" font-family='"Liberation Sans", sans-serif' font-size="9.2" text-anchor="start" font-weight="normal" font-style="normal" fill="#000" stroke="#000" stroke-width="0.45" >ZL Alg 3.1</text>
<clipPath id="c4"><rect x="396.00" y="328.60" width="284.40" height="254.80"/></clipPath>
<line x1="397.00" y1="350.82" x2="679.40" y2="350.82" stroke="#000" stroke-width="0.9" stroke-dasharray="5.7 1.75 1.3 1.75 2.2 0.9 2.2 0.9 2.2 1.3 2.2 0.9 1.75 0.9 2.6 1.75 0.9 1.75 1.3 1.75 2.2 0.9 2.6 0.9 2.2 1.3" stroke-dashoffset="43.5" opacity="0.26"/>
<line x1="397.00" y1="345.22" x2="679.40" y2="345.22" stroke="#000" stroke-width="0.9" stroke-dasharray="5.7 1.75 1.3 1.75 2.2 0.9 2.2 0.9 2.2 1.3 2.2 0.9 1.75 0.9 2.6 1.75 0.9 1.75 1.3 1.75 2.2 0.9 2.6 0.9 2.2 1.3" stroke-dashoffset="43.5" opacity="0.26"/>
<line x1="397.00" y1="341.25" x2="679.40" y2="341.25" stroke="#000" stroke-width="0.9" stroke-dasharray="5.7 1.75 1.3 1.75 2.2 0.9 2.2 0.9 2.2 1.3 2.2 0.9 1.75 0.9 2.6 1.75 0.9 1.75 1.3 1.75 2.2 0.9 2.6 0.9 2.2 1.3" stroke-dashoffset="43.5" opacity="0.26"/>
<line x1="397.00" y1="338.17" x2="679.40" y2="338.17" stroke="#000" stroke-width="0.9" stroke-dasharray="5.7 1.75 1.3 1.75 2.2 0.9 2.2 0.9 2.2 1.3 2.2 0.9 1.75 0.9 2.6 1.75 0.9 1.75 1.3 1.75 2.2 0.9 2.6 0.9 2.2 1.3" stroke-dashoffset="43.5" opacity="0.26"/>
<line x1="397.00" y1="335.65" x2="679.40" y2="335.65" stroke="#000" stroke-width="0.9" stroke-dasharray="5.7 1.75 1.3 1.75 2.2 0.9 2.2 0.9 2.2 1.3 2.2 0.9 1.75 0.9 2.6 1.75 0.9 1.75 1.3 1.75 2.2 0.9 2.6 0.9 2.2 1.3" stroke-dashoffset="43.5" opacity="0.26"/>
<line x1="397.00" y1="333.52" x2="679.40" y2="333.52" stroke="#000" stroke-width="0.9" stroke-dasharray="5.7 1.75 1.3 1.75 2.2 0.9 2.2 0.9 2.2 1.3 2.2 0.9 1.75 0.9 2.6 1.75 0.9 1.75 1.3 1.75 2.2 0.9 2.6 0.9 2.2 1.3" stroke-dashoffset="43.5" opacity="0.26"/>
<line x1="397.00" y1="331.68" x2="679.40" y2="331.68" stroke="#000" stroke-width="0.9" stroke-dasharray="5.7 1.75 1.3 1.75 2.2 0.9 2.2 0.9 2.2 1.3 2.2 0.9 1.75 0.9 2.6 1.75 0.9 1.75 1.3 1.75 2.2 0.9 2.6 0.9 2.2 1.3" stroke-dashoffset="43.5" opacity="0.26"/>
<line x1="397.00" y1="330.05" x2="679.40" y2="330.05" stroke="#000" stroke-width="0.9" stroke-dasharray="5.7 1.75 1.3 1.75 2.2 0.9 2.2 0.9 2.2 1.3 2.2 0.9 1.75 0.9 2.6 1.75 0.9 1.75 1.3 1.75 2.2 0.9 2.6 0.9 2.2 1.3" stroke-dashoffset="43.5" opacity="0.26"/>
<line x1="397.00" y1="382.61" x2="679.40" y2="382.61" stroke="#000" stroke-width="0.9" stroke-dasharray="5.7 1.75 1.3 1.75 2.2 0.9 2.2 0.9 2.2 1.3 2.2 0.9 1.75 0.9 2.6 1.75 0.9 1.75 1.3 1.75 2.2 0.9 2.6 0.9 2.2 1.3" stroke-dashoffset="43.5" opacity="0.26"/>
<line x1="397.00" y1="377.01" x2="679.40" y2="377.01" stroke="#000" stroke-width="0.9" stroke-dasharray="5.7 1.75 1.3 1.75 2.2 0.9 2.2 0.9 2.2 1.3 2.2 0.9 1.75 0.9 2.6 1.75 0.9 1.75 1.3 1.75 2.2 0.9 2.6 0.9 2.2 1.3" stroke-dashoffset="43.5" opacity="0.26"/>
<line x1="397.00" y1="373.04" x2="679.40" y2="373.04" stroke="#000" stroke-width="0.9" stroke-dasharray="5.7 1.75 1.3 1.75 2.2 0.9 2.2 0.9 2.2 1.3 2.2 0.9 1.75 0.9 2.6 1.75 0.9 1.75 1.3 1.75 2.2 0.9 2.6 0.9 2.2 1.3" stroke-dashoffset="43.5" opacity="0.26"/>
<line x1="397.00" y1="369.96" x2="679.40" y2="369.96" stroke="#000" stroke-width="0.9" stroke-dasharray="5.7 1.75 1.3 1.75 2.2 0.9 2.2 0.9 2.2 1.3 2.2 0.9 1.75 0.9 2.6 1.75 0.9 1.75 1.3 1.75 2.2 0.9 2.6 0.9 2.2 1.3" stroke-dashoffset="43.5" opacity="0.26"/>
<line x1="397.00" y1="367.44" x2="679.40" y2="367.44" stroke="#000" stroke-width="0.9" stroke-dasharray="5.7 1.75 1.3 1.75 2.2 0.9 2.2 0.9 2.2 1.3 2.2 0.9 1.75 0.9 2.6 1.75 0.9 1.75 1.3 1.75 2.2 0.9 2.6 0.9 2.2 1.3" stroke-dashoffset="43.5" opacity="0.26"/>
<line x1="397.00" y1="365.31" x2="679.40" y2="365.31" stroke="#000" stroke-width="0.9" stroke-dasharray="5.7 1.75 1.3 1.75 2.2 0.9 2.2 0.9 2.2 1.3 2.2 0.9 1.75 0.9 2.6 1.75 0.9 1.75 1.3 1.75 2.2 0.9 2.6 0.9 2.2 1.3" stroke-dashoffset="43.5" opacity="0.26"/>
<line x1="397.00" y1="363.47" x2="679.40" y2="363.47" stroke="#000" stroke-width="0.9" stroke-dasharray="5.7 1.75 1.3 1.75 2.2 0.9 2.2 0.9 2.2 1.3 2.2 0.9 1.75 0.9 2.6 1.75 0.9 1.75 1.3 1.75 2.2 0.9 2.6 0.9 2.2 1.3" stroke-dashoffset="43.5" opacity="0.26"/>
<line x1="397.00" y1="361.84" x2="679.40" y2="361.84" stroke="#000" stroke-width="0.9" stroke-dasharray="5.7 1.75 1.3 1.75 2.2 0.9 2.2 0.9 2.2 1.3 2.2 0.9 1.75 0.9 2.6 1.75 0.9 1.75 1.3 1.75 2.2 0.9 2.6 0.9 2.2 1.3" stroke-dashoffset="43.5" opacity="0.26"/>
<line x1="397.00" y1="414.39" x2="679.40" y2="414.39" stroke="#000" stroke-width="0.9" stroke-dasharray="5.7 1.75 1.3 1.75 2.2 0.9 2.2 0.9 2.2 1.3 2.2 0.9 1.75 0.9 2.6 1.75 0.9 1.75 1.3 1.75 2.2 0.9 2.6 0.9 2.2 1.3" stroke-dashoffset="43.5" opacity="0.26"/>
<line x1="397.00" y1="408.80" x2="679.40" y2="408.80" stroke="#000" stroke-width="0.9" stroke-dasharray="5.7 1.75 1.3 1.75 2.2 0.9 2.2 0.9 2.2 1.3 2.2 0.9 1.75 0.9 2.6 1.75 0.9 1.75 1.3 1.75 2.2 0.9 2.6 0.9 2.2 1.3" stroke-dashoffset="43.5" opacity="0.26"/>
<line x1="397.00" y1="404.82" x2="679.40" y2="404.82" stroke="#000" stroke-width="0.9" stroke-dasharray="5.7 1.75 1.3 1.75 2.2 0.9 2.2 0.9 2.2 1.3 2.2 0.9 1.75 0.9 2.6 1.75 0.9 1.75 1.3 1.75 2.2 0.9 2.6 0.9 2.2 1.3" stroke-dashoffset="43.5" opacity="0.26"/>
<line x1="397.00" y1="401.74" x2="679.40" y2="401.74" stroke="#000" stroke-width="0.9" stroke-dasharray="5.7 1.75 1.3 1.75 2.2 0.9 2.2 0.9 2.2 1.3 2.2 0.9 1.75 0.9 2.6 1.75 0.9 1.75 1.3 1.75 2.2 0.9 2.6 0.9 2.2 1.3" stroke-dashoffset="43.5" opacity="0.26"/>
<line x1="397.00" y1="399.23" x2="679.40" y2="399.23" stroke="#000" stroke-width="0.9" stroke-dasharray="5.7 1.75 1.3 1.75 2.2 0.9 2.2 0.9 2.2 1.3 2.2 0.9 1.75 0.9 2.6 1.75 0.9 1.75 1.3 1.75 2.2 0.9 2.6 0.9 2.2 1.3" stroke-dashoffset="43.5" opacity="0.26"/>
<line x1="397.00" y1="397.10" x2="679.40" y2="397.10" stroke="#000" stroke-width="0.9" stroke-dasharray="5.7 1.75 1.3 1.75 2.2 0.9 2.2 0.9 2.2 1.3 2.2 0.9 1.75 0.9 2.6 1.75 0.9 1.75 1.3 1.75 2.2 0.9 2.6 0.9 2.2 1.3" stroke-dashoffset="43.5" opacity="0.26"/>
<line x1="397.00" y1="395.26" x2="679.40" y2="395.26" stroke="#000" stroke-width="0.9" stroke-dasharray="5.7 1.75 1.3 1.75 2.2 0.9 2.2 0.9 2.2 1.3 2.2 0.9 1.75 0.9 2.6 1.75 0.9 1.75 1.3 1.75 2.2 0.9 2.6 0.9 2.2 1.3" stroke-dashoffset="43.5" opacity="0.26"/>
<line x1="397.00" y1="393.63" x2="679.40" y2="393.63" stroke="#000" stroke-width="0.9" stroke-dasharray="5.7 1.75 1.3 1.75 2.2 0.9 2.2 0.9 2.2 1.3 2.2 0.9 1.75 0.9 2.6 1.75 0.9 1.75 1.3 1.75 2.2 0.9 2.6 0.9 2.2 1.3" stroke-dashoffset="43.5" opacity="0.26"/>
<line x1="397.00" y1="446.18" x2="679.40" y2="446.18" stroke="#000" stroke-width="0.9" stroke-dasharray="5.7 1.75 1.3 1.75 2.2 0.9 2.2 0.9 2.2 1.3 2.2 0.9 1.75 0.9 2.6 1.75 0.9 1.75 1.3 1.75 2.2 0.9 2.6 0.9 2.2 1.3" stroke-dashoffset="43.5" opacity="0.26"/>
<line x1="397.00" y1="440.58" x2="679.40" y2="440.58" stroke="#000" stroke-width="0.9" stroke-dasharray="5.7 1.75 1.3 1.75 2.2 0.9 2.2 0.9 2.2 1.3 2.2 0.9 1.75 0.9 2.6 1.75 0.9 1.75 1.3 1.75 2.2 0.9 2.6 0.9 2.2 1.3" stroke-dashoffset="43.5" opacity="0.26"/>
<line x1="397.00" y1="436.61" x2="679.40" y2="436.61" stroke="#000" stroke-width="0.9" stroke-dasharray="5.7 1.75 1.3 1.75 2.2 0.9 2.2 0.9 2.2 1.3 2.2 0.9 1.75 0.9 2.6 1.75 0.9 1.75 1.3 1.75 2.2 0.9 2.6 0.9 2.2 1.3" stroke-dashoffset="43.5" opacity="0.26"/>
<line x1="397.00" y1="433.53" x2="679.40" y2="433.53" stroke="#000" stroke-width="0.9" stroke-dasharray="5.7 1.75 1.3 1.75 2.2 0.9 2.2 0.9 2.2 1.3 2.2 0.9 1.75 0.9 2.6 1.75 0.9 1.75 1.3 1.75 2.2 0.9 2.6 0.9 2.2 1.3" stroke-dashoffset="43.5" opacity="0.26"/>
<line x1="397.00" y1="431.01" x2="679.40" y2="431.01" stroke="#000" stroke-width="0.9" stroke-dasharray="5.7 1.75 1.3 1.75 2.2 0.9 2.2 0.9 2.2 1.3 2.2 0.9 1.75 0.9 2.6 1.75 0.9 1.75 1.3 1.75 2.2 0.9 2.6 0.9 2.2 1.3" stroke-dashoffset="43.5" opacity="0.26"/>
<line x1="397.00" y1="428.89" x2="679.40" y2="428.89" stroke="#000" stroke-width="0.9" stroke-dasharray="5.7 1.75 1.3 1.75 2.2 0.9 2.2 0.9 2.2 1.3 2.2 0.9 1.75 0.9 2.6 1.75 0.9 1.75 1.3 1.75 2.2 0.9 2.6 0.9 2.2 1.3" stroke-dashoffset="43.5" opacity="0.26"/>
<line x1="397.00" y1="427.04" x2="679.40" y2="427.04" stroke="#000" stroke-width="0.9" stroke-dasharray="5.7 1.75 1.3 1.75 2.2 0.9 2.2 0.9 2.2 1.3 2.2 0.9 1.75 0.9 2.6 1.75 0.9 1.75 1.3 1.75 2.2 0.9 2.6 0.9 2.2 1.3" stroke-dashoffset="43.5" opacity="0.26"/>
<line x1="397.00" y1="425.42" x2="679.40" y2="425.42" stroke="#000" stroke-width="0.9" stroke-dasharray="5.7 1.75 1.3 1.75 2.2 0.9 2.2 0.9 2.2 1.3 2.2 0.9 1.75 0.9 2.6 1.75 0.9 1.75 1.3 1.75 2.2 0.9 2.6 0.9 2.2 1.3" stroke-dashoffset="43.5" opacity="0.26"/>
<line x1="397.00" y1="477.97" x2="679.40" y2="477.97" stroke="#000" stroke-width="0.9" stroke-dasharray="5.7 1.75 1.3 1.75 2.2 0.9 2.2 0.9 2.2 1.3 2.2 0.9 1.75 0.9 2.6 1.75 0.9 1.75 1.3 1.75 2.2 0.9 2.6 0.9 2.2 1.3" stroke-dashoffset="43.5" opacity="0.26"/>
<line x1="397.00" y1="472.37" x2="679.40" y2="472.37" stroke="#000" stroke-width="0.9" stroke-dasharray="5.7 1.75 1.3 1.75 2.2 0.9 2.2 0.9 2.2 1.3 2.2 0.9 1.75 0.9 2.6 1.75 0.9 1.75 1.3 1.75 2.2 0.9 2.6 0.9 2.2 1.3" stroke-dashoffset="43.5" opacity="0.26"/>
<line x1="397.00" y1="468.40" x2="679.40" y2="468.40" stroke="#000" stroke-width="0.9" stroke-dasharray="5.7 1.75 1.3 1.75 2.2 0.9 2.2 0.9 2.2 1.3 2.2 0.9 1.75 0.9 2.6 1.75 0.9 1.75 1.3 1.75 2.2 0.9 2.6 0.9 2.2 1.3" stroke-dashoffset="43.5" opacity="0.26"/>
<line x1="397.00" y1="465.32" x2="679.40" y2="465.32" stroke="#000" stroke-width="0.9" stroke-dasharray="5.7 1.75 1.3 1.75 2.2 0.9 2.2 0.9 2.2 1.3 2.2 0.9 1.75 0.9 2.6 1.75 0.9 1.75 1.3 1.75 2.2 0.9 2.6 0.9 2.2 1.3" stroke-dashoffset="43.5" opacity="0.26"/>
<line x1="397.00" y1="462.80" x2="679.40" y2="462.80" stroke="#000" stroke-width="0.9" stroke-dasharray="5.7 1.75 1.3 1.75 2.2 0.9 2.2 0.9 2.2 1.3 2.2 0.9 1.75 0.9 2.6 1.75 0.9 1.75 1.3 1.75 2.2 0.9 2.6 0.9 2.2 1.3" stroke-dashoffset="43.5" opacity="0.26"/>
<line x1="397.00" y1="460.67" x2="679.40" y2="460.67" stroke="#000" stroke-width="0.9" stroke-dasharray="5.7 1.75 1.3 1.75 2.2 0.9 2.2 0.9 2.2 1.3 2.2 0.9 1.75 0.9 2.6 1.75 0.9 1.75 1.3 1.75 2.2 0.9 2.6 0.9 2.2 1.3" stroke-dashoffset="43.5" opacity="0.26"/>
<line x1="397.00" y1="458.83" x2="679.40" y2="458.83" stroke="#000" stroke-width="0.9" stroke-dasharray="5.7 1.75 1.3 1.75 2.2 0.9 2.2 0.9 2.2 1.3 2.2 0.9 1.75 0.9 2.6 1.75 0.9 1.75 1.3 1.75 2.2 0.9 2.6 0.9 2.2 1.3" stroke-dashoffset="43.5" opacity="0.26"/>
<line x1="397.00" y1="457.20" x2="679.40" y2="457.20" stroke="#000" stroke-width="0.9" stroke-dasharray="5.7 1.75 1.3 1.75 2.2 0.9 2.2 0.9 2.2 1.3 2.2 0.9 1.75 0.9 2.6 1.75 0.9 1.75 1.3 1.75 2.2 0.9 2.6 0.9 2.2 1.3" stroke-dashoffset="43.5" opacity="0.26"/>
<line x1="397.00" y1="509.76" x2="679.40" y2="509.76" stroke="#000" stroke-width="0.9" stroke-dasharray="5.7 1.75 1.3 1.75 2.2 0.9 2.2 0.9 2.2 1.3 2.2 0.9 1.75 0.9 2.6 1.75 0.9 1.75 1.3 1.75 2.2 0.9 2.6 0.9 2.2 1.3" stroke-dashoffset="43.5" opacity="0.26"/>
<line x1="397.00" y1="504.16" x2="679.40" y2="504.16" stroke="#000" stroke-width="0.9" stroke-dasharray="5.7 1.75 1.3 1.75 2.2 0.9 2.2 0.9 2.2 1.3 2.2 0.9 1.75 0.9 2.6 1.75 0.9 1.75 1.3 1.75 2.2 0.9 2.6 0.9 2.2 1.3" stroke-dashoffset="43.5" opacity="0.26"/>
<line x1="397.00" y1="500.19" x2="679.40" y2="500.19" stroke="#000" stroke-width="0.9" stroke-dasharray="5.7 1.75 1.3 1.75 2.2 0.9 2.2 0.9 2.2 1.3 2.2 0.9 1.75 0.9 2.6 1.75 0.9 1.75 1.3 1.75 2.2 0.9 2.6 0.9 2.2 1.3" stroke-dashoffset="43.5" opacity="0.26"/>
<line x1="397.00" y1="497.11" x2="679.40" y2="497.11" stroke="#000" stroke-width="0.9" stroke-dasharray="5.7 1.75 1.3 1.75 2.2 0.9 2.2 0.9 2.2 1.3 2.2 0.9 1.75 0.9 2.6 1.75 0.9 1.75 1.3 1.75 2.2 0.9 2.6 0.9 2.2 1.3" stroke-dashoffset="43.5" opacity="0.26"/>
<line x1="397.00" y1="494.59" x2="679.40" y2="494.59" stroke="#000" stroke-width="0.9" stroke-dasharray="5.7 1.75 1.3 1.75 2.2 0.9 2.2 0.9 2.2 1.3 2.2 0.9 1.75 0.9 2.6 1.75 0.9 1.75 1.3 1.75 2.2 0.9 2.6 0.9 2.2 1.3" stroke-dashoffset="43.5" opacity="0.26"/>
<line x1="397.00" y1="492.46" x2="679.40" y2="492.46" stroke="#000" stroke-width="0.9" stroke-dasharray="5.7 1.75 1.3 1.75 2.2 0.9 2.2 0.9 2.2 1.3 2.2 0.9 1.75 0.9 2.6 1.75 0.9 1.75 1.3 1.75 2.2 0.9 2.6 0.9 2.2 1.3" stroke-dashoffset="43.5" opacity="0.26"/>
<line x1="397.00" y1="490.62" x2="679.40" y2="490.62" stroke="#000" stroke-width="0.9" stroke-dasharray="5.7 1.75 1.3 1.75 2.2 0.9 2.2 0.9 2.2 1.3 2.2 0.9 1.75 0.9 2.6 1.75 0.9 1.75 1.3 1.75 2.2 0.9 2.6 0.9 2.2 1.3" stroke-dashoffset="43.5" opacity="0.26"/>
<line x1="397.00" y1="488.99" x2="679.40" y2="488.99" stroke="#000" stroke-width="0.9" stroke-dasharray="5.7 1.75 1.3 1.75 2.2 0.9 2.2 0.9 2.2 1.3 2.2 0.9 1.75 0.9 2.6 1.75 0.9 1.75 1.3 1.75 2.2 0.9 2.6 0.9 2.2 1.3" stroke-dashoffset="43.5" opacity="0.26"/>
<line x1="397.00" y1="541.54" x2="679.40" y2="541.54" stroke="#000" stroke-width="0.9" stroke-dasharray="5.7 1.75 1.3 1.75 2.2 0.9 2.2 0.9 2.2 1.3 2.2 0.9 1.75 0.9 2.6 1.75 0.9 1.75 1.3 1.75 2.2 0.9 2.6 0.9 2.2 1.3" stroke-dashoffset="43.5" opacity="0.26"/>
<line x1="397.00" y1="535.95" x2="679.40" y2="535.95" stroke="#000" stroke-width="0.9" stroke-dasharray="5.7 1.75 1.3 1.75 2.2 0.9 2.2 0.9 2.2 1.3 2.2 0.9 1.75 0.9 2.6 1.75 0.9 1.75 1.3 1.75 2.2 0.9 2.6 0.9 2.2 1.3" stroke-dashoffset="43.5" opacity="0.26"/>
<line x1="397.00" y1="531.97" x2="679.40" y2="531.97" stroke="#000" stroke-width="0.9" stroke-dasharray="5.7 1.75 1.3 1.75 2.2 0.9 2.2 0.9 2.2 1.3 2.2 0.9 1.75 0.9 2.6 1.75 0.9 1.75 1.3 1.75 2.2 0.9 2.6 0.9 2.2 1.3" stroke-dashoffset="43.5" opacity="0.26"/>
<line x1="397.00" y1="528.89" x2="679.40" y2="528.89" stroke="#000" stroke-width="0.9" stroke-dasharray="5.7 1.75 1.3 1.75 2.2 0.9 2.2 0.9 2.2 1.3 2.2 0.9 1.75 0.9 2.6 1.75 0.9 1.75 1.3 1.75 2.2 0.9 2.6 0.9 2.2 1.3" stroke-dashoffset="43.5" opacity="0.26"/>
<line x1="397.00" y1="526.38" x2="679.40" y2="526.38" stroke="#000" stroke-width="0.9" stroke-dasharray="5.7 1.75 1.3 1.75 2.2 0.9 2.2 0.9 2.2 1.3 2.2 0.9 1.75 0.9 2.6 1.75 0.9 1.75 1.3 1.75 2.2 0.9 2.6 0.9 2.2 1.3" stroke-dashoffset="43.5" opacity="0.26"/>
<line x1="397.00" y1="524.25" x2="679.40" y2="524.25" stroke="#000" stroke-width="0.9" stroke-dasharray="5.7 1.75 1.3 1.75 2.2 0.9 2.2 0.9 2.2 1.3 2.2 0.9 1.75 0.9 2.6 1.75 0.9 1.75 1.3 1.75 2.2 0.9 2.6 0.9 2.2 1.3" stroke-dashoffset="43.5" opacity="0.26"/>
<line x1="397.00" y1="522.41" x2="679.40" y2="522.41" stroke="#000" stroke-width="0.9" stroke-dasharray="5.7 1.75 1.3 1.75 2.2 0.9 2.2 0.9 2.2 1.3 2.2 0.9 1.75 0.9 2.6 1.75 0.9 1.75 1.3 1.75 2.2 0.9 2.6 0.9 2.2 1.3" stroke-dashoffset="43.5" opacity="0.26"/>
<line x1="397.00" y1="520.78" x2="679.40" y2="520.78" stroke="#000" stroke-width="0.9" stroke-dasharray="5.7 1.75 1.3 1.75 2.2 0.9 2.2 0.9 2.2 1.3 2.2 0.9 1.75 0.9 2.6 1.75 0.9 1.75 1.3 1.75 2.2 0.9 2.6 0.9 2.2 1.3" stroke-dashoffset="43.5" opacity="0.26"/>
<line x1="397.00" y1="573.33" x2="679.40" y2="573.33" stroke="#000" stroke-width="0.9" stroke-dasharray="5.7 1.75 1.3 1.75 2.2 0.9 2.2 0.9 2.2 1.3 2.2 0.9 1.75 0.9 2.6 1.75 0.9 1.75 1.3 1.75 2.2 0.9 2.6 0.9 2.2 1.3" stroke-dashoffset="43.5" opacity="0.26"/>
<line x1="397.00" y1="567.73" x2="679.40" y2="567.73" stroke="#000" stroke-width="0.9" stroke-dasharray="5.7 1.75 1.3 1.75 2.2 0.9 2.2 0.9 2.2 1.3 2.2 0.9 1.75 0.9 2.6 1.75 0.9 1.75 1.3 1.75 2.2 0.9 2.6 0.9 2.2 1.3" stroke-dashoffset="43.5" opacity="0.26"/>
<line x1="397.00" y1="563.76" x2="679.40" y2="563.76" stroke="#000" stroke-width="0.9" stroke-dasharray="5.7 1.75 1.3 1.75 2.2 0.9 2.2 0.9 2.2 1.3 2.2 0.9 1.75 0.9 2.6 1.75 0.9 1.75 1.3 1.75 2.2 0.9 2.6 0.9 2.2 1.3" stroke-dashoffset="43.5" opacity="0.26"/>
<line x1="397.00" y1="560.68" x2="679.40" y2="560.68" stroke="#000" stroke-width="0.9" stroke-dasharray="5.7 1.75 1.3 1.75 2.2 0.9 2.2 0.9 2.2 1.3 2.2 0.9 1.75 0.9 2.6 1.75 0.9 1.75 1.3 1.75 2.2 0.9 2.6 0.9 2.2 1.3" stroke-dashoffset="43.5" opacity="0.26"/>
<line x1="397.00" y1="558.16" x2="679.40" y2="558.16" stroke="#000" stroke-width="0.9" stroke-dasharray="5.7 1.75 1.3 1.75 2.2 0.9 2.2 0.9 2.2 1.3 2.2 0.9 1.75 0.9 2.6 1.75 0.9 1.75 1.3 1.75 2.2 0.9 2.6 0.9 2.2 1.3" stroke-dashoffset="43.5" opacity="0.26"/>
<line x1="397.00" y1="556.04" x2="679.40" y2="556.04" stroke="#000" stroke-width="0.9" stroke-dasharray="5.7 1.75 1.3 1.75 2.2 0.9 2.2 0.9 2.2 1.3 2.2 0.9 1.75 0.9 2.6 1.75 0.9 1.75 1.3 1.75 2.2 0.9 2.6 0.9 2.2 1.3" stroke-dashoffset="43.5" opacity="0.26"/>
<line x1="397.00" y1="554.19" x2="679.40" y2="554.19" stroke="#000" stroke-width="0.9" stroke-dasharray="5.7 1.75 1.3 1.75 2.2 0.9 2.2 0.9 2.2 1.3 2.2 0.9 1.75 0.9 2.6 1.75 0.9 1.75 1.3 1.75 2.2 0.9 2.6 0.9 2.2 1.3" stroke-dashoffset="43.5" opacity="0.26"/>
<line x1="397.00" y1="552.57" x2="679.40" y2="552.57" stroke="#000" stroke-width="0.9" stroke-dasharray="5.7 1.75 1.3 1.75 2.2 0.9 2.2 0.9 2.2 1.3 2.2 0.9 1.75 0.9 2.6 1.75 0.9 1.75 1.3 1.75 2.2 0.9 2.6 0.9 2.2 1.3" stroke-dashoffset="43.5" opacity="0.26"/>
<line x1="397.00" y1="360.39" x2="679.40" y2="360.39" stroke="#000" stroke-width="0.9" stroke-dasharray="5.7 1.75 1.3 1.75 2.2 0.9 2.2 0.9 2.2 1.3 2.2 0.9 1.75 0.9 2.6 1.75 0.9 1.75 1.3 1.75 2.2 0.9 2.6 0.9 2.2 1.3" stroke-dashoffset="43.5" opacity="0.26"/>
<line x1="397.00" y1="392.18" x2="679.40" y2="392.18" stroke="#dedede" stroke-width="1.1" />
<line x1="397.00" y1="423.96" x2="679.40" y2="423.96" stroke="#000" stroke-width="0.9" stroke-dasharray="5.7 1.75 1.3 1.75 2.2 0.9 2.2 0.9 2.2 1.3 2.2 0.9 1.75 0.9 2.6 1.75 0.9 1.75 1.3 1.75 2.2 0.9 2.6 0.9 2.2 1.3" stroke-dashoffset="43.5" opacity="0.26"/>
<line x1="397.00" y1="455.75" x2="679.40" y2="455.75" stroke="#dedede" stroke-width="1.1" />
<line x1="397.00" y1="487.54" x2="679.40" y2="487.54" stroke="#000" stroke-width="0.9" stroke-dasharray="5.7 1.75 1.3 1.75 2.2 0.9 2.2 0.9 2.2 1.3 2.2 0.9 1.75 0.9 2.6 1.75 0.9 1.75 1.3 1.75 2.2 0.9 2.6 0.9 2.2 1.3" stroke-dashoffset="43.5" opacity="0.26"/>
<line x1="397.00" y1="519.33" x2="679.40" y2="519.33" stroke="#dedede" stroke-width="1.1" />
<line x1="397.00" y1="551.11" x2="679.40" y2="551.11" stroke="#000" stroke-width="0.9" stroke-dasharray="5.7 1.75 1.3 1.75 2.2 0.9 2.2 0.9 2.2 1.3 2.2 0.9 1.75 0.9 2.6 1.75 0.9 1.75 1.3 1.75 2.2 0.9 2.6 0.9 2.2 1.3" stroke-dashoffset="43.5" opacity="0.26"/>
<line x1="400.14" y1="328.60" x2="400.14" y2="582.90" stroke="#000" stroke-width="0.7" opacity="0.02"/>
<line x1="403.28" y1="328.60" x2="403.28" y2="582.90" stroke="#000" stroke-width="0.7" opacity="0.02"/>
<line x1="406.41" y1="328.60" x2="406.41" y2="582.90" stroke="#000" stroke-width="0.7" opacity="0.02"/>
<line x1="409.55" y1="328.60" x2="409.55" y2="582.90" stroke="#000" stroke-width="0.7" opacity="0.02"/>
<line x1="412.69" y1="328.60" x2="412.69" y2="582.90" stroke="#000" stroke-width="0.7" opacity="0.02"/>
<line x1="415.83" y1="328.60" x2="415.83" y2="582.90" stroke="#000" stroke-width="0.7" opacity="0.02"/>
<line x1="418.96" y1="328.60" x2="418.96" y2="582.90" stroke="#000" stroke-width="0.7" opacity="0.02"/>
<line x1="422.10" y1="328.60" x2="422.10" y2="582.90" stroke="#000" stroke-width="0.7" opacity="0.02"/>
<line x1="425.24" y1="328.60" x2="425.24" y2="582.90" stroke="#000" stroke-width="0.7" opacity="0.02"/>
<line x1="428.38" y1="328.60" x2="428.38" y2="582.90" stroke="#d2d2d2" stroke-width="0.9" />
<line x1="431.52" y1="328.60" x2="431.52" y2="582.90" stroke="#000" stroke-width="0.7" opacity="0.02"/>
<line x1="434.65" y1="328.60" x2="434.65" y2="582.90" stroke="#000" stroke-width="0.7" opacity="0.02"/>
<line x1="437.79" y1="328.60" x2="437.79" y2="582.90" stroke="#000" stroke-width="0.7" opacity="0.02"/>
<line x1="440.93" y1="328.60" x2="440.93" y2="582.90" stroke="#000" stroke-width="0.7" opacity="0.02"/>
<line x1="444.07" y1="328.60" x2="444.07" y2="582.90" stroke="#000" stroke-width="0.7" opacity="0.02"/>
<line x1="447.20" y1="328.60" x2="447.20" y2="582.90" stroke="#000" stroke-width="0.7" opacity="0.02"/>
<line x1="450.34" y1="328.60" x2="450.34" y2="582.90" stroke="#000" stroke-width="0.7" opacity="0.02"/>
<line x1="453.48" y1="328.60" x2="453.48" y2="582.90" stroke="#000" stroke-width="0.7" opacity="0.02"/>
<line x1="456.62" y1="328.60" x2="456.62" y2="582.90" stroke="#000" stroke-width="0.7" opacity="0.02"/>
<line x1="459.76" y1="328.60" x2="459.76" y2="582.90" stroke="#d2d2d2" stroke-width="0.9" />
<line x1="462.89" y1="328.60" x2="462.89" y2="582.90" stroke="#000" stroke-width="0.7" opacity="0.02"/>
<line x1="466.03" y1="328.60" x2="466.03" y2="582.90" stroke="#000" stroke-width="0.7" opacity="0.02"/>
<line x1="469.17" y1="328.60" x2="469.17" y2="582.90" stroke="#000" stroke-width="0.7" opacity="0.02"/>
<line x1="472.31" y1="328.60" x2="472.31" y2="582.90" stroke="#000" stroke-width="0.7" opacity="0.02"/>
<line x1="475.44" y1="328.60" x2="475.44" y2="582.90" stroke="#000" stroke-width="0.7" opacity="0.02"/>
<line x1="478.58" y1="328.60" x2="478.58" y2="582.90" stroke="#000" stroke-width="0.7" opacity="0.02"/>
<line x1="481.72" y1="328.60" x2="481.72" y2="582.90" stroke="#000" stroke-width="0.7" opacity="0.02"/>
<line x1="484.86" y1="328.60" x2="484.86" y2="582.90" stroke="#000" stroke-width="0.7" opacity="0.02"/>
<line x1="488.00" y1="328.60" x2="488.00" y2="582.90" stroke="#000" stroke-width="0.7" opacity="0.02"/>
<line x1="491.13" y1="328.60" x2="491.13" y2="582.90" stroke="#d2d2d2" stroke-width="0.9" />
<line x1="494.27" y1="328.60" x2="494.27" y2="582.90" stroke="#000" stroke-width="0.7" opacity="0.02"/>
<line x1="497.41" y1="328.60" x2="497.41" y2="582.90" stroke="#000" stroke-width="0.7" opacity="0.02"/>
<line x1="500.55" y1="328.60" x2="500.55" y2="582.90" stroke="#000" stroke-width="0.7" opacity="0.02"/>
<line x1="503.68" y1="328.60" x2="503.68" y2="582.90" stroke="#000" stroke-width="0.7" opacity="0.02"/>
<line x1="506.82" y1="328.60" x2="506.82" y2="582.90" stroke="#000" stroke-width="0.7" opacity="0.02"/>
<line x1="509.96" y1="328.60" x2="509.96" y2="582.90" stroke="#000" stroke-width="0.7" opacity="0.02"/>
<line x1="513.10" y1="328.60" x2="513.10" y2="582.90" stroke="#000" stroke-width="0.7" opacity="0.02"/>
<line x1="516.24" y1="328.60" x2="516.24" y2="582.90" stroke="#000" stroke-width="0.7" opacity="0.02"/>
<line x1="519.37" y1="328.60" x2="519.37" y2="582.90" stroke="#000" stroke-width="0.7" opacity="0.02"/>
<line x1="522.51" y1="328.60" x2="522.51" y2="582.90" stroke="#d2d2d2" stroke-width="0.9" />
<line x1="525.65" y1="328.60" x2="525.65" y2="582.90" stroke="#000" stroke-width="0.7" opacity="0.02"/>
<line x1="528.79" y1="328.60" x2="528.79" y2="582.90" stroke="#000" stroke-width="0.7" opacity="0.02"/>
<line x1="531.92" y1="328.60" x2="531.92" y2="582.90" stroke="#000" stroke-width="0.7" opacity="0.02"/>
<line x1="535.06" y1="328.60" x2="535.06" y2="582.90" stroke="#000" stroke-width="0.7" opacity="0.02"/>
<line x1="538.20" y1="328.60" x2="538.20" y2="582.90" stroke="#000" stroke-width="0.7" opacity="0.02"/>
<line x1="541.34" y1="328.60" x2="541.34" y2="582.90" stroke="#000" stroke-width="0.7" opacity="0.02"/>
<line x1="544.48" y1="328.60" x2="544.48" y2="582.90" stroke="#000" stroke-width="0.7" opacity="0.02"/>
<line x1="547.61" y1="328.60" x2="547.61" y2="582.90" stroke="#000" stroke-width="0.7" opacity="0.02"/>
<line x1="550.75" y1="328.60" x2="550.75" y2="582.90" stroke="#000" stroke-width="0.7" opacity="0.02"/>
<line x1="553.89" y1="328.60" x2="553.89" y2="582.90" stroke="#d2d2d2" stroke-width="0.9" />
<line x1="557.03" y1="328.60" x2="557.03" y2="582.90" stroke="#000" stroke-width="0.7" opacity="0.02"/>
<line x1="560.16" y1="328.60" x2="560.16" y2="582.90" stroke="#000" stroke-width="0.7" opacity="0.02"/>
<line x1="563.30" y1="328.60" x2="563.30" y2="582.90" stroke="#000" stroke-width="0.7" opacity="0.02"/>
<line x1="566.44" y1="328.60" x2="566.44" y2="582.90" stroke="#000" stroke-width="0.7" opacity="0.02"/>
<line x1="569.58" y1="328.60" x2="569.58" y2="582.90" stroke="#000" stroke-width="0.7" opacity="0.02"/>
<line x1="572.72" y1="328.60" x2="572.72" y2="582.90" stroke="#000" stroke-width="0.7" opacity="0.02"/>
<line x1="575.85" y1="328.60" x2="575.85" y2="582.90" stroke="#000" stroke-width="0.7" opacity="0.02"/>
<line x1="578.99" y1="328.60" x2="578.99" y2="582.90" stroke="#000" stroke-width="0.7" opacity="0.02"/>
<line x1="582.13" y1="328.60" x2="582.13" y2="582.90" stroke="#000" stroke-width="0.7" opacity="0.02"/>
<line x1="585.27" y1="328.60" x2="585.27" y2="582.90" stroke="#d2d2d2" stroke-width="0.9" />
<line x1="588.40" y1="328.60" x2="588.40" y2="582.90" stroke="#000" stroke-width="0.7" opacity="0.02"/>
<line x1="591.54" y1="328.60" x2="591.54" y2="582.90" stroke="#000" stroke-width="0.7" opacity="0.02"/>
<line x1="594.68" y1="328.60" x2="594.68" y2="582.90" stroke="#000" stroke-width="0.7" opacity="0.02"/>
<line x1="597.82" y1="328.60" x2="597.82" y2="582.90" stroke="#000" stroke-width="0.7" opacity="0.02"/>
<line x1="600.96" y1="328.60" x2="600.96" y2="582.90" stroke="#000" stroke-width="0.7" opacity="0.02"/>
<line x1="604.09" y1="328.60" x2="604.09" y2="582.90" stroke="#000" stroke-width="0.7" opacity="0.02"/>
<line x1="607.23" y1="328.60" x2="607.23" y2="582.90" stroke="#000" stroke-width="0.7" opacity="0.02"/>
<line x1="610.37" y1="328.60" x2="610.37" y2="582.90" stroke="#000" stroke-width="0.7" opacity="0.02"/>
<line x1="613.51" y1="328.60" x2="613.51" y2="582.90" stroke="#000" stroke-width="0.7" opacity="0.02"/>
<line x1="616.64" y1="328.60" x2="616.64" y2="582.90" stroke="#d2d2d2" stroke-width="0.9" />
<line x1="619.78" y1="328.60" x2="619.78" y2="582.90" stroke="#000" stroke-width="0.7" opacity="0.02"/>
<line x1="622.92" y1="328.60" x2="622.92" y2="582.90" stroke="#000" stroke-width="0.7" opacity="0.02"/>
<line x1="626.06" y1="328.60" x2="626.06" y2="582.90" stroke="#000" stroke-width="0.7" opacity="0.02"/>
<line x1="629.20" y1="328.60" x2="629.20" y2="582.90" stroke="#000" stroke-width="0.7" opacity="0.02"/>
<line x1="632.33" y1="328.60" x2="632.33" y2="582.90" stroke="#000" stroke-width="0.7" opacity="0.02"/>
<line x1="635.47" y1="328.60" x2="635.47" y2="582.90" stroke="#000" stroke-width="0.7" opacity="0.02"/>
<line x1="638.61" y1="328.60" x2="638.61" y2="582.90" stroke="#000" stroke-width="0.7" opacity="0.02"/>
<line x1="641.75" y1="328.60" x2="641.75" y2="582.90" stroke="#000" stroke-width="0.7" opacity="0.02"/>
<line x1="644.88" y1="328.60" x2="644.88" y2="582.90" stroke="#000" stroke-width="0.7" opacity="0.02"/>
<line x1="648.02" y1="328.60" x2="648.02" y2="582.90" stroke="#d2d2d2" stroke-width="0.9" />
<line x1="651.16" y1="328.60" x2="651.16" y2="582.90" stroke="#000" stroke-width="0.7" opacity="0.02"/>
<line x1="654.30" y1="328.60" x2="654.30" y2="582.90" stroke="#000" stroke-width="0.7" opacity="0.02"/>
<line x1="657.44" y1="328.60" x2="657.44" y2="582.90" stroke="#000" stroke-width="0.7" opacity="0.02"/>
<line x1="660.57" y1="328.60" x2="660.57" y2="582.90" stroke="#000" stroke-width="0.7" opacity="0.02"/>
<line x1="663.71" y1="328.60" x2="663.71" y2="582.90" stroke="#000" stroke-width="0.7" opacity="0.02"/>
<line x1="666.85" y1="328.60" x2="666.85" y2="582.90" stroke="#000" stroke-width="0.7" opacity="0.02"/>
<line x1="669.99" y1="328.60" x2="669.99" y2="582.90" stroke="#000" stroke-width="0.7" opacity="0.02"/>
<line x1="673.12" y1="328.60" x2="673.12" y2="582.90" stroke="#000" stroke-width="0.7" opacity="0.02"/>
<line x1="676.26" y1="328.60" x2="676.26" y2="582.90" stroke="#000" stroke-width="0.7" opacity="0.02"/>
<rect x="397.00" y="328.60" width="282.40" height="254.30" fill="none" stroke="#262626" stroke-width="1.15" />
<line x1="428.38" y1="582.90" x2="428.38" y2="578.10" stroke="#262626" stroke-width="1.05" />
<line x1="428.38" y1="328.60" x2="428.38" y2="333.40" stroke="#262626" stroke-width="1.05" />
<line x1="459.76" y1="582.90" x2="459.76" y2="578.10" stroke="#262626" stroke-width="1.05" />
<line x1="459.76" y1="328.60" x2="459.76" y2="333.40" stroke="#262626" stroke-width="1.05" />
<line x1="491.13" y1="582.90" x2="491.13" y2="578.10" stroke="#262626" stroke-width="1.05" />
<line x1="491.13" y1="328.60" x2="491.13" y2="333.40" stroke="#262626" stroke-width="1.05" />
<line x1="522.51" y1="582.90" x2="522.51" y2="578.10" stroke="#262626" stroke-width="1.05" />
<line x1="522.51" y1="328.60" x2="522.51" y2="333.40" stroke="#262626" stroke-width="1.05" />
<line x1="553.89" y1="582.90" x2="553.89" y2="578.10" stroke="#262626" stroke-width="1.05" />
<line x1="553.89" y1="328.60" x2="553.89" y2="333.40" stroke="#262626" stroke-width="1.05" />
<line x1="585.27" y1="582.90" x2="585.27" y2="578.10" stroke="#262626" stroke-width="1.05" />
<line x1="585.27" y1="328.60" x2="585.27" y2="333.40" stroke="#262626" stroke-width="1.05" />
<line x1="616.64" y1="582.90" x2="616.64" y2="578.10" stroke="#262626" stroke-width="1.05" />
<line x1="616.64" y1="328.60" x2="616.64" y2="333.40" stroke="#262626" stroke-width="1.05" />
<line x1="648.02" y1="582.90" x2="648.02" y2="578.10" stroke="#262626" stroke-width="1.05" />
<line x1="648.02" y1="328.60" x2="648.02" y2="333.40" stroke="#262626" stroke-width="1.05" />
<text transform="translate(396.20,596.20) scale(0.6050,1) rotate(0.03)" font-family='"Liberation Sans", sans-serif' font-size="9.9" text-anchor="middle" font-weight="normal" font-style="normal" fill="#262626" stroke="#262626" stroke-width="0.45" >0</text>
<text transform="translate(427.58,596.20) scale(0.6050,1) rotate(0.03)" font-family='"Liberation Sans", sans-serif' font-size="9.9" text-anchor="middle" font-weight="normal" font-style="normal" fill="#262626" stroke="#262626" stroke-width="0.45" >200</text>
<text transform="translate(458.96,596.20) scale(0.6050,1) rotate(0.03)" font-family='"Liberation Sans", sans-serif' font-size="9.9" text-anchor="middle" font-weight="normal" font-style="normal" fill="#262626" stroke="#262626" stroke-width="0.45" >400</text>
<text transform="translate(490.33,596.20) scale(0.6050,1) rotate(0.03)" font-family='"Liberation Sans", sans-serif' font-size="9.9" text-anchor="middle" font-weight="normal" font-style="normal" fill="#262626" stroke="#262626" stroke-width="0.45" >600</text>
<text transform="translate(521.71,596.20) scale(0.6050,1) rotate(0.03)" font-family='"Liberation Sans", sans-serif' font-size="9.9" text-anchor="middle" font-weight="normal" font-style="normal" fill="#262626" stroke="#262626" stroke-width="0.45" >800</text>
<text transform="translate(553.09,596.20) scale(0.6050,1) rotate(0.03)" font-family='"Liberation Sans", sans-serif' font-size="9.9" text-anchor="middle" font-weight="normal" font-style="normal" fill="#262626" stroke="#262626" stroke-width="0.45" >1000</text>
<text transform="translate(584.47,596.20) scale(0.6050,1) rotate(0.03)" font-family='"Liberation Sans", sans-serif' font-size="9.9" text-anchor="middle" font-weight="normal" font-style="normal" fill="#262626" stroke="#262626" stroke-width="0.45" >1200</text>
<text transform="translate(615.84,596.20) scale(0.6050,1) rotate(0.03)" font-family='"Liberation Sans", sans-serif' font-size="9.9" text-anchor="middle" font-weight="normal" font-style="normal" fill="#262626" stroke="#262626" stroke-width="0.45" >1400</text>
<text transform="translate(647.22,596.20) scale(0.6050,1) rotate(0.03)" font-family='"Liberation Sans", sans-serif' font-size="9.9" text-anchor="middle" font-weight="normal" font-style="normal" fill="#262626" stroke="#262626" stroke-width="0.45" >1600</text>
<text transform="translate(678.60,596.20) scale(0.6050,1) rotate(0.03)" font-family='"Liberation Sans", sans-serif' font-size="9.9" text-anchor="middle" font-weight="normal" font-style="normal" fill="#262626" stroke="#262626" stroke-width="0.45" >1800</text>
<line x1="397.00" y1="350.82" x2="398.60" y2="350.82" stroke="#262626" stroke-width="0.9" />
<line x1="679.40" y1="350.82" x2="677.80" y2="350.82" stroke="#262626" stroke-width="0.9" />
<line x1="397.00" y1="345.22" x2="398.60" y2="345.22" stroke="#262626" stroke-width="0.9" />
<line x1="679.40" y1="345.22" x2="677.80" y2="345.22" stroke="#262626" stroke-width="0.9" />
<line x1="397.00" y1="341.25" x2="398.60" y2="341.25" stroke="#262626" stroke-width="0.9" />
<line x1="679.40" y1="341.25" x2="677.80" y2="341.25" stroke="#262626" stroke-width="0.9" />
<line x1="397.00" y1="338.17" x2="398.60" y2="338.17" stroke="#262626" stroke-width="0.9" />
<line x1="679.40" y1="338.17" x2="677.80" y2="338.17" stroke="#262626" stroke-width="0.9" />
<line x1="397.00" y1="335.65" x2="398.60" y2="335.65" stroke="#262626" stroke-width="0.9" />
<line x1="679.40" y1="335.65" x2="677.80" y2="335.65" stroke="#262626" stroke-width="0.9" />
<line x1="397.00" y1="333.52" x2="398.60" y2="333.52" stroke="#262626" stroke-width="0.9" />
<line x1="679.40" y1="333.52" x2="677.80" y2="333.52" stroke="#262626" stroke-width="0.9" />
<line x1="397.00" y1="331.68" x2="398.60" y2="331.68" stroke="#262626" stroke-width="0.9" />
<line x1="679.40" y1="331.68" x2="677.80" y2="331.68" stroke="#262626" stroke-width="0.9" />
<line x1="397.00" y1="330.05" x2="398.60" y2="330.05" stroke="#262626" stroke-width="0.9" />
<line x1="679.40" y1="330.05" x2="677.80" y2="330.05" stroke="#262626" stroke-width="0.9" />
<line x1="397.00" y1="382.61" x2="398.60" y2="382.61" stroke="#262626" stroke-width="0.9" />
<line x1="679.40" y1="382.61" x2="677.80" y2="382.61" stroke="#262626" stroke-width="0.9" />
<line x1="397.00" y1="377.01" x2="398.60" y2="377.01" stroke="#262626" stroke-width="0.9" />
<line x1="679.40" y1="377.01" x2="677.80" y2="377.01" stroke="#262626" stroke-width="0.9" />
<line x1="397.00" y1="373.04" x2="398.60" y2="373.04" stroke="#262626" stroke-width="0.9" />
<line x1="679.40" y1="373.04" x2="677.80" y2="373.04" stroke="#262626" stroke-width="0.9" />
<line x1="397.00" y1="369.96" x2="398.60" y2="369.96" stroke="#262626" stroke-width="0.9" />
<line x1="679.40" y1="369.96" x2="677.80" y2="369.96" stroke="#262626" stroke-width="0.9" />
<line x1="397.00" y1="367.44" x2="398.60" y2="367.44" stroke="#262626" stroke-width="0.9" />
<line x1="679.40" y1="367.44" x2="677.80" y2="367.44" stroke="#262626" stroke-width="0.9" />
<line x1="397.00" y1="365.31" x2="398.60" y2="365.31" stroke="#262626" stroke-width="0.9" />
<line x1="679.40" y1="365.31" x2="677.80" y2="365.31" stroke="#262626" stroke-width="0.9" />
<line x1="397.00" y1="363.47" x2="398.60" y2="363.47" stroke="#262626" stroke-width="0.9" />
<line x1="679.40" y1="363.47" x2="677.80" y2="363.47" stroke="#262626" stroke-width="0.9" />
<line x1="397.00" y1="361.84" x2="398.60" y2="361.84" stroke="#262626" stroke-width="0.9" />
<line x1="679.40" y1="361.84" x2="677.80" y2="361.84" stroke="#262626" stroke-width="0.9" />
<line x1="397.00" y1="360.39" x2="398.60" y2="360.39" stroke="#262626" stroke-width="0.9" />
<line x1="679.40" y1="360.39" x2="677.80" y2="360.39" stroke="#262626" stroke-width="0.9" />
<line x1="397.00" y1="414.39" x2="398.60" y2="414.39" stroke="#262626" stroke-width="0.9" />
<line x1="679.40" y1="414.39" x2="677.80" y2="414.39" stroke="#262626" stroke-width="0.9" />
<line x1="397.00" y1="408.80" x2="398.60" y2="408.80" stroke="#262626" stroke-width="0.9" />
<line x1="679.40" y1="408.80" x2="677.80" y2="408.80" stroke="#262626" stroke-width="0.9" />
<line x1="397.00" y1="404.82" x2="398.60" y2="404.82" stroke="#262626" stroke-width="0.9" />
<line x1="679.40" y1="404.82" x2="677.80" y2="404.82" stroke="#262626" stroke-width="0.9" />
<line x1="397.00" y1="401.74" x2="398.60" y2="401.74" stroke="#262626" stroke-width="0.9" />
<line x1="679.40" y1="401.74" x2="677.80" y2="401.74" stroke="#262626" stroke-width="0.9" />
<line x1="397.00" y1="399.23" x2="398.60" y2="399.23" stroke="#262626" stroke-width="0.9" />
<line x1="679.40" y1="399.23" x2="677.80" y2="399.23" stroke="#262626" stroke-width="0.9" />
<line x1="397.00" y1="397.10" x2="398.60" y2="397.10" stroke="#262626" stroke-width="0.9" />
<line x1="679.40" y1="397.10" x2="677.80" y2="397.10" stroke="#262626" stroke-width="0.9" />
<line x1="397.00" y1="395.26" x2="398.60" y2="395.26" stroke="#262626" stroke-width="0.9" />
<line x1="679.40" y1="395.26" x2="677.80" y2="395.26" stroke="#262626" stroke-width="0.9" />
<line x1="397.00" y1="393.63" x2="398.60" y2="393.63" stroke="#262626" stroke-width="0.9" />
<line x1="679.40" y1="393.63" x2="677.80" y2="393.63" stroke="#262626" stroke-width="0.9" />
<line x1="397.00" y1="392.18" x2="400.00" y2="392.18" stroke="#262626" stroke-width="1.25" />
<line x1="679.40" y1="392.18" x2="676.40" y2="392.18" stroke="#262626" stroke-width="1.25" />
<line x1="397.00" y1="446.18" x2="398.60" y2="446.18" stroke="#262626" stroke-width="0.9" />
<line x1="679.40" y1="446.18" x2="677.80" y2="446.18" stroke="#262626" stroke-width="0.9" />
<line x1="397.00" y1="440.58" x2="398.60" y2="440.58" stroke="#262626" stroke-width="0.9" />
<line x1="679.40" y1="440.58" x2="677.80" y2="440.58" stroke="#262626" stroke-width="0.9" />
<line x1="397.00" y1="436.61" x2="398.60" y2="436.61" stroke="#262626" stroke-width="0.9" />
<line x1="679.40" y1="436.61" x2="677.80" y2="436.61" stroke="#262626" stroke-width="0.9" />
<line x1="397.00" y1="433.53" x2="398.60" y2="433.53" stroke="#262626" stroke-width="0.9" />
<line x1="679.40" y1="433.53" x2="677.80" y2="433.53" stroke="#262626" stroke-width="0.9" />
<line x1="397.00" y1="431.01" x2="398.60" y2="431.01" stroke="#262626" stroke-width="0.9" />
<line x1="679.40" y1="431.01" x2="677.80" y2="431.01" stroke="#262626" stroke-width="0.9" />
<line x1="397.00" y1="428.89" x2="398.60" y2="428.89" stroke="#262626" stroke-width="0.9" />
<line x1="679.40" y1="428.89" x2="677.80" y2="428.89" stroke="#262626" stroke-width="0.9" />
<line x1="397.00" y1="427.04" x2="398.60" y2="427.04" stroke="#262626" stroke-width="0.9" />
<line x1="679.40" y1="427.04" x2="677.80" y2="427.04" stroke="#262626" stroke-width="0.9" />
<line x1="397.00" y1="425.42" x2="398.60" y2="425.42" stroke="#262626" stroke-width="0.9" />
<line x1="679.40" y1="425.42" x2="677.80" y2="425.42" stroke="#262626" stroke-width="0.9" />
<line x1="397.00" y1="423.96" x2="398.60" y2="423.96" stroke="#262626" stroke-width="0.9" />
<line x1="679.40" y1="423.96" x2="677.80" y2="423.96" stroke="#262626" stroke-width="0.9" />
<line x1="397.00" y1="477.97" x2="398.60" y2="477.97" stroke="#262626" stroke-width="0.9" />
<line x1="679.40" y1="477.97" x2="677.80" y2="477.97" stroke="#262626" stroke-width="0.9" />
<line x1="397.00" y1="472.37" x2="398.60" y2="472.37" stroke="#262626" stroke-width="0.9" />
<line x1="679.40" y1="472.37" x2="677.80" y2="472.37" stroke="#262626" stroke-width="0.9" />
<line x1="397.00" y1="468.40" x2="398.60" y2="468.40" stroke="#262626" stroke-width="0.9" />
<line x1="679.40" y1="468.40" x2="677.80" y2="468.40" stroke="#262626" stroke-width="0.9" />
<line x1="397.00" y1="465.32" x2="398.60" y2="465.32" stroke="#262626" stroke-width="0.9" />
<line x1="679.40" y1="465.32" x2="677.80" y2="465.32" stroke="#262626" stroke-width="0.9" />
<line x1="397.00" y1="462.80" x2="398.60" y2="462.80" stroke="#262626" stroke-width="0.9" />
<line x1="679.40" y1="462.80" x2="677.80" y2="462.80" stroke="#262626" stroke-width="0.9" />
<line x1="397.00" y1="460.67" x2="398.60" y2="460.67" stroke="#262626" stroke-width="0.9" />
<line x1="679.40" y1="460.67" x2="677.80" y2="460.67" stroke="#262626" stroke-width="0.9" />
<line x1="397.00" y1="458.83" x2="398.60" y2="458.83" stroke="#262626" stroke-width="0.9" />
<line x1="679.40" y1="458.83" x2="677.80" y2="458.83" stroke="#262626" stroke-width="0.9" />
<line x1="397.00" y1="457.20" x2="398.60" y2="457.20" stroke="#262626" stroke-width="0.9" />
<line x1="679.40" y1="457.20" x2="677.80" y2="457.20" stroke="#262626" stroke-width="0.9" />
<line x1="397.00" y1="455.75" x2="400.00" y2="455.75" stroke="#262626" stroke-width="1.25" />
<line x1="679.40" y1="455.75" x2="676.40" y2="455.75" stroke="#262626" stroke-width="1.25" />
<line x1="397.00" y1="509.76" x2="398.60" y2="509.76" stroke="#262626" stroke-width="0.9" />
<line x1="679.40" y1="509.76" x2="677.80" y2="509.76" stroke="#262626" stroke-width="0.9" />
<line x1="397.00" y1="504.16" x2="398.60" y2="504.16" stroke="#262626" stroke-width="0.9" />
<line x1="679.40" y1="504.16" x2="677.80" y2="504.16" stroke="#262626" stroke-width="0.9" />
<line x1="397.00" y1="500.19" x2="398.60" y2="500.19" stroke="#262626" stroke-width="0.9" />
<line x1="679.40" y1="500.19" x2="677.80" y2="500.19" stroke="#262626" stroke-width="0.9" />
<line x1="397.00" y1="497.11" x2="398.60" y2="497.11" stroke="#262626" stroke-width="0.9" />
<line x1="679.40" y1="497.11" x2="677.80" y2="497.11" stroke="#262626" stroke-width="0.9" />
<line x1="397.00" y1="494.59" x2="398.60" y2="494.59" stroke="#262626" stroke-width="0.9" />
<line x1="679.40" y1="494.59" x2="677.80" y2="494.59" stroke="#262626" stroke-width="0.9" />
<line x1="397.00" y1="492.46" x2="398.60" y2="492.46" stroke="#262626" stroke-width="0.9" />
<line x1="679.40" y1="492.46" x2="677.80" y2="492.46" stroke="#262626" stroke-width="0.9" />
<line x1="397.00" y1="490.62" x2="398.60" y2="490.62" stroke="#262626" stroke-width="0.9" />
<line x1="679.40" y1="490.62" x2="677.80" y2="490.62" stroke="#262626" stroke-width="0.9" />
<line x1="397.00" y1="488.99" x2="398.60" y2="488.99" stroke="#262626" stroke-width="0.9" />
<line x1="679.40" y1="488.99" x2="677.80" y2="488.99" stroke="#262626" stroke-width="0.9" />
<line x1="397.00" y1="487.54" x2="398.60" y2="487.54" stroke="#262626" stroke-width="0.9" />
<line x1="679.40" y1="487.54" x2="677.80" y2="487.54" stroke="#262626" stroke-width="0.9" />
<line x1="397.00" y1="541.54" x2="398.60" y2="541.54" stroke="#262626" stroke-width="0.9" />
<line x1="679.40" y1="541.54" x2="677.80" y2="541.54" stroke="#262626" stroke-width="0.9" />
<line x1="397.00" y1="535.95" x2="398.60" y2="535.95" stroke="#262626" stroke-width="0.9" />
<line x1="679.40" y1="535.95" x2="677.80" y2="535.95" stroke="#262626" stroke-width="0.9" />
<line x1="397.00" y1="531.97" x2="398.60" y2="531.97" stroke="#262626" stroke-width="0.9" />
<line x1="679.40" y1="531.97" x2="677.80" y2="531.97" stroke="#262626" stroke-width="0.9" />
<line x1="397.00" y1="528.89" x2="398.60" y2="528.89" stroke="#262626" stroke-width="0.9" />
<line x1="679.40" y1="528.89" x2="677.80" y2="528.89" stroke="#262626" stroke-width="0.9" />
<line x1="397.00" y1="526.38" x2="398.60" y2="526.38" stroke="#262626" stroke-width="0.9" />
<line x1="679.40" y1="526.38" x2="677.80" y2="526.38" stroke="#262626" stroke-width="0.9" />
<line x1="397.00" y1="524.25" x2="398.60" y2="524.25" stroke="#262626" stroke-width="0.9" />
<line x1="679.40" y1="524.25" x2="677.80" y2="524.25" stroke="#262626" stroke-width="0.9" />
<line x1="397.00" y1="522.41" x2="398.60" y2="522.41" stroke="#262626" stroke-width="0.9" />
<line x1="679.40" y1="522.41" x2="677.80" y2="522.41" stroke="#262626" stroke-width="0.9" />
<line x1="397.00" y1="520.78" x2="398.60" y2="520.78" stroke="#262626" stroke-width="0.9" />
<line x1="679.40" y1="520.78" x2="677.80" y2="520.78" stroke="#262626" stroke-width="0.9" />
<line x1="397.00" y1="519.33" x2="400.00" y2="519.33" stroke="#262626" stroke-width="1.25" />
<line x1="679.40" y1="519.33" x2="676.40" y2="519.33" stroke="#262626" stroke-width="1.25" />
<line x1="397.00" y1="573.33" x2="398.60" y2="573.33" stroke="#262626" stroke-width="0.9" />
<line x1="679.40" y1="573.33" x2="677.80" y2="573.33" stroke="#262626" stroke-width="0.9" />
<line x1="397.00" y1="567.73" x2="398.60" y2="567.73" stroke="#262626" stroke-width="0.9" />
<line x1="679.40" y1="567.73" x2="677.80" y2="567.73" stroke="#262626" stroke-width="0.9" />
<line x1="397.00" y1="563.76" x2="398.60" y2="563.76" stroke="#262626" stroke-width="0.9" />
<line x1="679.40" y1="563.76" x2="677.80" y2="563.76" stroke="#262626" stroke-width="0.9" />
<line x1="397.00" y1="560.68" x2="398.60" y2="560.68" stroke="#262626" stroke-width="0.9" />
<line x1="679.40" y1="560.68" x2="677.80" y2="560.68" stroke="#262626" stroke-width="0.9" />
<line x1="397.00" y1="558.16" x2="398.60" y2="558.16" stroke="#262626" stroke-width="0.9" />
<line x1="679.40" y1="558.16" x2="677.80" y2="558.16" stroke="#262626" stroke-width="0.9" />
<line x1="397.00" y1="556.04" x2="398.60" y2="556.04" stroke="#262626" stroke-width="0.9" />
<line x1="679.40" y1="556.04" x2="677.80" y2="556.04" stroke="#262626" stroke-width="0.9" />
<line x1="397.00" y1="554.19" x2="398.60" y2="554.19" stroke="#262626" stroke-width="0.9" />
<line x1="679.40" y1="554.19" x2="677.80" y2="554.19" stroke="#262626" stroke-width="0.9" />
<line x1="397.00" y1="552.57" x2="398.60" y2="552.57" stroke="#262626" stroke-width="0.9" />
<line x1="679.40" y1="552.57" x2="677.80" y2="552.57" stroke="#262626" stroke-width="0.9" />
<line x1="397.00" y1="551.11" x2="398.60" y2="551.11" stroke="#262626" stroke-width="0.9" />
<line x1="679.40" y1="551.11" x2="677.80" y2="551.11" stroke="#262626" stroke-width="0.9" />
<path d="M397.40,332.00 L397.70,400.00 L398.30,432.00 L399.30,443.50 L401.70,462.90 L404.20,487.20 L411.70,582.90 L411.90,585.00" fill="none" stroke="#FF0000" stroke-width="1.6" stroke-linejoin="round" clip-path="url(#c4)"/>
<path d="M397.30,332.00 L397.50,420.00 L397.80,455.00 L398.20,461.00 L399.00,456.00 L400.50,448.00 L402.50,441.50 L404.30,438.00 L405.80,437.00 L407.30,438.50 L409.80,445.10 L413.10,462.90 L416.30,487.20 L421.00,528.00 L427.00,582.90 L427.20,585.00" fill="none" stroke="#000000" stroke-width="1.6" stroke-linejoin="round" clip-path="url(#c4)"/>
<path d="M397.30,471.00 L397.60,455.00 L398.20,443.00 L399.20,439.50 L401.00,438.30 L410.00,437.90 L500.00,437.60 L600.00,437.30 L619.50,437.30 L620.40,437.90 L621.50,436.80 L622.80,434.20 L623.60,433.00 L624.30,432.60 L625.00,433.00 L625.90,435.00 L626.90,438.20 L628.80,447.20 L630.10,458.90 L631.10,471.90 L631.60,484.90 L631.80,500.00 L631.90,511.90" fill="none" stroke="#C010C0" stroke-width="1.7" stroke-linejoin="round" clip-path="url(#c4)"/>
<path d="M631.90,511.90 L632.00,497.00 L632.40,486.00 L633.00,479.00 L633.60,476.60 L634.00,476.40 L634.60,477.20 L635.90,482.30 L637.90,495.20 L639.30,506.20 L639.80,515.00 L640.10,530.00 L640.20,565.40" fill="none" stroke="#C010C0" stroke-width="1.7" stroke-linejoin="round" clip-path="url(#c4)"/>
<path d="M640.20,565.40 L640.30,545.00 L640.60,530.00 L641.20,521.00 L641.80,518.00 L642.20,517.60 L642.80,518.50 L645.00,528.90 L646.90,545.10 L647.90,561.30 L648.40,572.70" fill="none" stroke="#C010C0" stroke-width="1.7" stroke-linejoin="round" clip-path="url(#c4)"/>
<path d="M397.30,432.00 L397.60,420.00 L398.00,411.00 L398.80,407.00 L400.00,405.80 L404.00,405.40 L415.00,405.30 L422.00,405.50 L424.40,406.20 L426.00,408.00 L426.80,409.40 L427.60,410.60 L427.70,404.30 L427.70,434.60 L428.60,433.60 L429.40,432.60 L430.10,432.50 L430.90,434.50 L431.70,438.60 L434.50,454.80 L437.40,471.00 L440.10,488.90 L445.30,518.40 L454.70,582.90 L455.00,585.00" fill="none" stroke="#0000FF" stroke-width="1.9" stroke-linejoin="round" stroke-dasharray="4.6 1.2 1.3 1.2" clip-path="url(#c4)"/>
<path d="M397.20,370.00 L397.30,431.00" fill="none" stroke="#007F00" stroke-width="1.5" stroke-linejoin="round" clip-path="url(#c4)"/>
<path d="M397.30,430.00 L398.00,434.50 L399.00,436.50 L418.90,470.00 L482.20,582.90 L483.40,585.00" fill="none" stroke="#007F00" stroke-width="1.5" stroke-linejoin="round" stroke-dasharray="4.6 1.2 1.3 1.2" clip-path="url(#c4)"/>
<path d="M397.20,384.00 L397.50,346.10 L442.90,582.90 L443.30,585.00" fill="none" stroke="#6BCB2F" stroke-width="1.8" stroke-linejoin="round" clip-path="url(#c4)"/>
<text transform="translate(391.00,333.50) scale(0.6090,1) rotate(0.03)" font-family='"Liberation Sans", sans-serif' font-size="9.8" text-anchor="end" font-weight="normal" font-style="normal" fill="#262626" stroke="#262626" stroke-width="0.45" >10</text>
<text transform="translate(392.00,328.70) scale(0.5600,1) rotate(0.03)" font-family='"Liberation Sans", sans-serif' font-size="8.1" text-anchor="start" font-weight="normal" font-style="normal" fill="#262626" stroke="#262626" stroke-width="0.45" >2</text>
<text transform="translate(391.00,397.07) scale(0.6090,1) rotate(0.03)" font-family='"Liberation Sans", sans-serif' font-size="9.8" text-anchor="end" font-weight="normal" font-style="normal" fill="#262626" stroke="#262626" stroke-width="0.45" >10</text>
<text transform="translate(392.00,392.28) scale(0.5600,1) rotate(0.03)" font-family='"Liberation Sans", sans-serif' font-size="8.1" text-anchor="start" font-weight="normal" font-style="normal" fill="#262626" stroke="#262626" stroke-width="0.45" >0</text>
<text transform="translate(388.90,460.65) scale(0.6090,1) rotate(0.03)" font-family='"Liberation Sans", sans-serif' font-size="9.8" text-anchor="end" font-weight="normal" font-style="normal" fill="#262626" stroke="#262626" stroke-width="0.45" >10</text>
<text transform="translate(390.40,455.85) scale(0.5600,1) rotate(0.03)" font-family='"Liberation Sans", sans-serif' font-size="8.1" text-anchor="start" font-weight="normal" font-style="normal" fill="#262626" stroke="#262626" stroke-width="0.45" >-2</text>
<text transform="translate(388.90,524.23) scale(0.6090,1) rotate(0.03)" font-family='"Liberation Sans", sans-serif' font-size="9.8" text-anchor="end" font-weight="normal" font-style="normal" fill="#262626" stroke="#262626" stroke-width="0.45" >10</text>
<text transform="translate(390.40,519.43) scale(0.5600,1) rotate(0.03)" font-family='"Liberation Sans", sans-serif' font-size="8.1" text-anchor="start" font-weight="normal" font-style="normal" fill="#262626" stroke="#262626" stroke-width="0.45" >-4</text>
<text transform="translate(388.90,587.80) scale(0.6090,1) rotate(0.03)" font-family='"Liberation Sans", sans-serif' font-size="9.8" text-anchor="end" font-weight="normal" font-style="normal" fill="#262626" stroke="#262626" stroke-width="0.45" >10</text>
<text transform="translate(390.40,583.00) scale(0.5600,1) rotate(0.03)" font-family='"Liberation Sans", sans-serif' font-size="8.1" text-anchor="start" font-weight="normal" font-style="normal" fill="#262626" stroke="#262626" stroke-width="0.45" >-6</text>
<text transform="translate(378.9,462.35) scale(0.585,1) rotate(-90)" font-family='"Liberation Serif", serif' font-style="italic" font-size="12.5" fill="#262626" stroke="#262626" stroke-width="0.3">E<tspan font-size="8.6" dy="2.2">n</tspan></text>
<text transform="translate(533.60,609.80) scale(0.5820,1) rotate(0.03)" font-family='"Liberation Sans", sans-serif' font-size="11.2" text-anchor="middle" font-weight="normal" font-style="normal" fill="#262626" stroke="#262626" stroke-width="0.45" >Number of iterations</text>
<rect x="616.30" y="336.60" width="55.50" height="68.70" fill="#fff" stroke="#262626" stroke-width="1.0" />
<line x1="617.80" y1="343.30" x2="628.90" y2="343.30" stroke="#FF0000" stroke-width="1.7" />
<text transform="translate(629.90,346.50) scale(0.5780,1) rotate(0.03)" font-family='"Liberation Sans", sans-serif' font-size="9.2" text-anchor="start" font-weight="normal" font-style="normal" fill="#000" stroke="#000" stroke-width="0.45" >YAS Alg. 1</text>
<line x1="617.80" y1="354.47" x2="628.90" y2="354.47" stroke="#000000" stroke-width="1.7" />
<text transform="translate(629.90,357.67) scale(0.5780,1) rotate(0.03)" font-family='"Liberation Sans", sans-serif' font-size="9.2" text-anchor="start" font-weight="normal" font-style="normal" fill="#000" stroke="#000" stroke-width="0.45" >YAS Alg. 2</text>
<line x1="617.80" y1="365.64" x2="628.90" y2="365.64" stroke="#C010C0" stroke-width="1.7" />
<text transform="translate(629.90,368.84) scale(0.5780,1) rotate(0.03)" font-family='"Liberation Sans", sans-serif' font-size="9.2" text-anchor="start" font-weight="normal" font-style="normal" fill="#000" stroke="#000" stroke-width="0.45" >WW Alg. 1</text>
<line x1="617.80" y1="376.81" x2="628.90" y2="376.81" stroke="#0000FF" stroke-width="1.7" stroke-dasharray="3.2 1 1 1"/>
<text transform="translate(629.90,380.01) scale(0.5780,1) rotate(0.03)" font-family='"Liberation Sans", sans-serif' font-size="9.2" text-anchor="start" font-weight="normal" font-style="normal" fill="#000" stroke="#000" stroke-width="0.45" >TLDHT Alg. 3.1</text>
<line x1="617.80" y1="387.98" x2="628.90" y2="387.98" stroke="#007F00" stroke-width="1.7" stroke-dasharray="3.2 1 1 1"/>
<text transform="translate(629.90,391.18) scale(0.5780,1) rotate(0.03)" font-family='"Liberation Sans", sans-serif' font-size="9.2" text-anchor="start" font-weight="normal" font-style="normal" fill="#000" stroke="#000" stroke-width="0.45" >YIS Alg. 1</text>
<line x1="617.80" y1="399.15" x2="628.90" y2="399.15" stroke="#6BCB2F" stroke-width="1.7" />
<text transform="translate(629.90,402.35) scale(0.5780,1) rotate(0.03)" font-family='"Liberation Sans", sans-serif' font-size="9.2" text-anchor="start" font-weight="normal" font-style="normal" fill="#000" stroke="#000" stroke-width="0.45" >ZL Alg 3.1</text>
</svg>
</body></html>
